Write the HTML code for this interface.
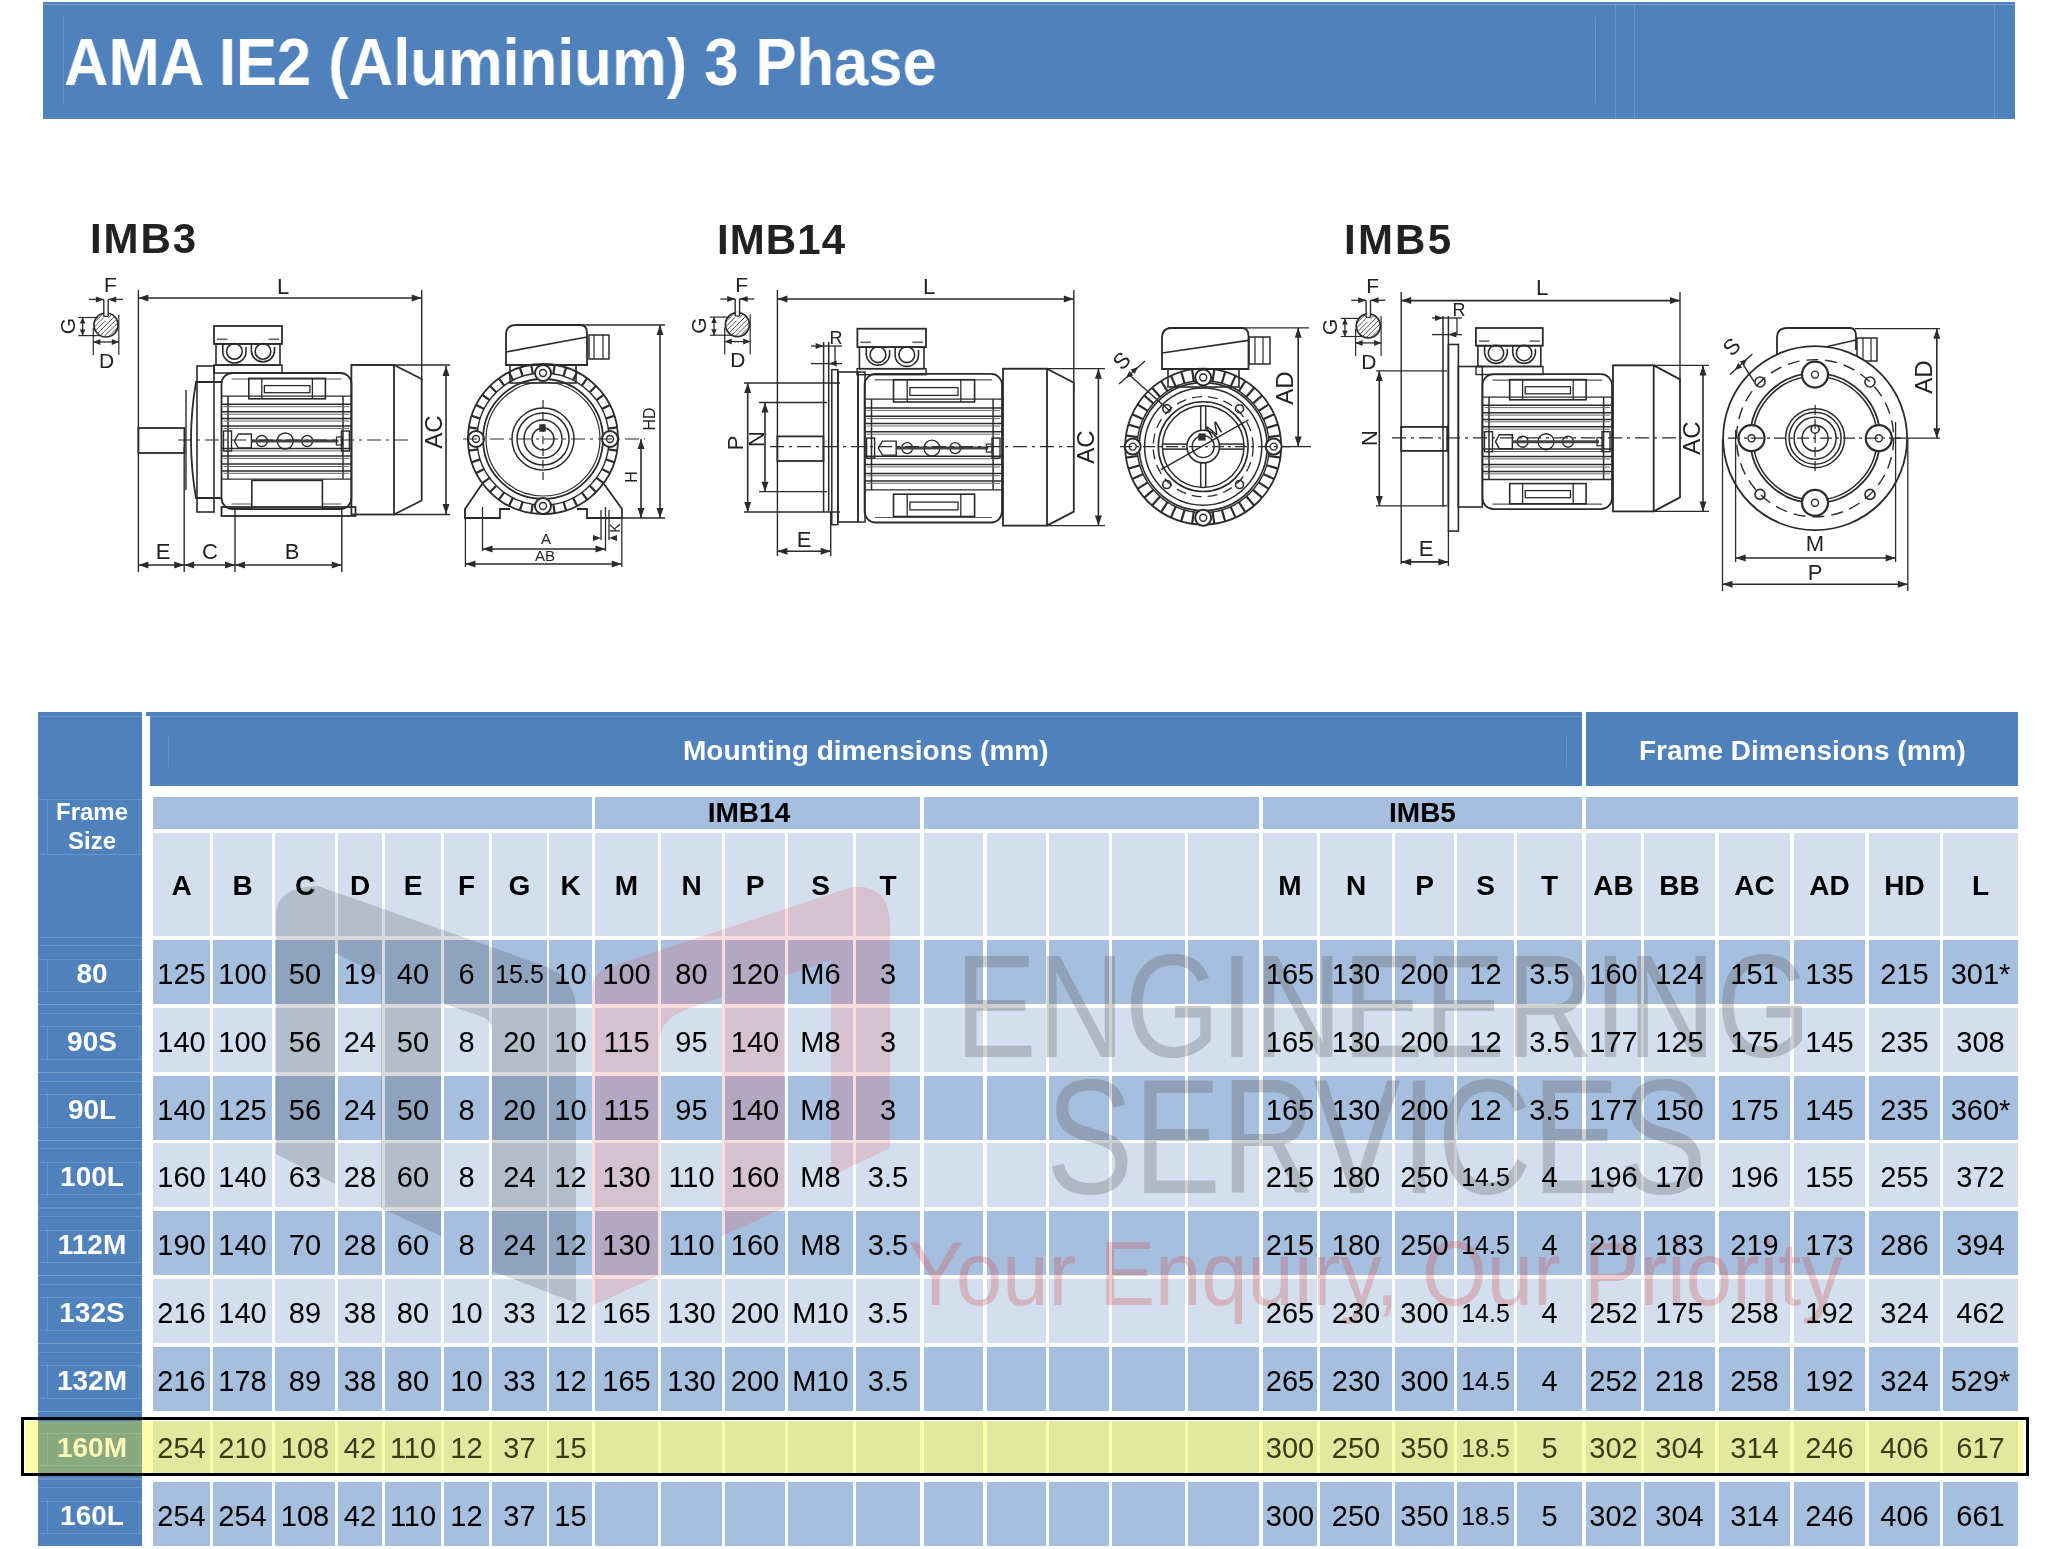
<!DOCTYPE html><html><head><meta charset="utf-8"><style>
html,body{margin:0;padding:0;background:#fff;}
body{width:2048px;height:1549px;position:relative;overflow:hidden;font-family:"Liberation Sans",sans-serif;}
.a{position:absolute;}
.c{position:absolute;}
.t{will-change:transform;position:absolute;text-align:center;white-space:nowrap;color:#000;font-size:29px;line-height:30px;height:30px;}
.s{font-size:25px;}
.h{font-weight:bold;font-size:28px;}
.wf{color:#fff;font-weight:bold;}
</style></head><body>
<div class="a" style="left:43px;top:2px;width:1972px;height:117px;background:#4f81bd"></div>
<div class="a" style="left:43px;top:4px;width:1972px;height:1px;background:#7aa0d0"></div>
<div class="a" style="left:63px;top:17px;width:1px;height:86px;background:#6b95c8"></div>
<div class="a" style="left:1595px;top:17px;width:1px;height:86px;background:#6b95c8"></div>
<div class="a" style="left:1615px;top:5px;width:1px;height:114px;background:#6b95c8"></div>
<div class="a" style="left:1634px;top:5px;width:1px;height:114px;background:#6b95c8"></div>
<div class="a" style="left:1994px;top:5px;width:1px;height:114px;background:#6b95c8"></div>
<div class="a" style="left:64px;top:22px;font-size:66px;line-height:80px;font-weight:bold;color:#fff;white-space:nowrap;will-change:transform;transform:scaleX(0.932);transform-origin:0 0" id="title">AMA IE2 (Aluminium) 3 Phase</div>
<svg class="a" style="left:0;top:0;will-change:transform" width="2048" height="700" viewBox="0 0 2048 700"><text x="90.0" y="253.0" font-family="Liberation Sans" font-size="42" font-weight="bold" text-anchor="start" fill="#222" textLength="106.0">IMB3</text><line x1="94.3" y1="322.3" x2="103.3" y2="313.3" stroke="#555" stroke-width="1.00"/><line x1="94.2" y1="327.2" x2="108.2" y2="313.2" stroke="#555" stroke-width="1.00"/><line x1="95.5" y1="330.7" x2="111.7" y2="314.5" stroke="#555" stroke-width="1.00"/><line x1="97.5" y1="333.5" x2="114.5" y2="316.5" stroke="#555" stroke-width="1.00"/><line x1="100.3" y1="335.5" x2="116.5" y2="319.3" stroke="#555" stroke-width="1.00"/><line x1="103.8" y1="336.8" x2="117.8" y2="322.8" stroke="#555" stroke-width="1.00"/><line x1="108.7" y1="336.7" x2="117.7" y2="327.7" stroke="#555" stroke-width="1.00"/><circle cx="106.0" cy="325.0" r="12.0" fill="none" stroke="#2b2b2b" stroke-width="1.70"/><rect x="103.8" y="312.0" width="4.4" height="9" fill="#fff"/><line x1="103.8" y1="299.4" x2="103.8" y2="316.4" stroke="#2b2b2b" stroke-width="1.40"/><line x1="108.2" y1="299.4" x2="108.2" y2="316.4" stroke="#2b2b2b" stroke-width="1.40"/><line x1="103.8" y1="316.4" x2="108.2" y2="316.4" stroke="#2b2b2b" stroke-width="1.20"/><line x1="89.0" y1="299.4" x2="103.8" y2="299.4" stroke="#2b2b2b" stroke-width="1.30"/><line x1="108.2" y1="299.4" x2="123.0" y2="299.4" stroke="#2b2b2b" stroke-width="1.30"/><polygon points="103.8,299.4 95.8,302.4 95.8,296.4" fill="#2b2b2b"/><polygon points="108.2,299.4 116.2,296.4 116.2,302.4" fill="#2b2b2b"/><text x="110.3" y="292.0" font-family="Liberation Sans" font-size="21" font-weight="normal" text-anchor="middle" fill="#222">F</text><line x1="78.4" y1="317.5" x2="98.0" y2="317.5" stroke="#2b2b2b" stroke-width="1.20"/><line x1="78.4" y1="335.6" x2="101.0" y2="335.6" stroke="#2b2b2b" stroke-width="1.20"/><line x1="82.6" y1="317.5" x2="82.6" y2="335.6" stroke="#2b2b2b" stroke-width="1.30"/><polygon points="82.6,317.5 85.4,323.5 79.8,323.5" fill="#2b2b2b"/><polygon points="82.6,335.6 79.8,329.6 85.4,329.6" fill="#2b2b2b"/><text x="75.0" y="326.0" font-family="Liberation Sans" font-size="21" font-weight="normal" text-anchor="middle" fill="#222" transform="rotate(-90 75.0 326.0)">G</text><line x1="93.3" y1="328.0" x2="93.3" y2="355.0" stroke="#2b2b2b" stroke-width="1.20"/><line x1="118.8" y1="315.0" x2="118.8" y2="355.0" stroke="#2b2b2b" stroke-width="1.20"/><line x1="93.3" y1="342.0" x2="118.8" y2="342.0" stroke="#2b2b2b" stroke-width="1.30"/><polygon points="93.3,342.0 100.3,339.0 100.3,345.0" fill="#2b2b2b"/><polygon points="118.8,342.0 111.8,345.0 111.8,339.0" fill="#2b2b2b"/><text x="106.5" y="367.6" font-family="Liberation Sans" font-size="21" font-weight="normal" text-anchor="middle" fill="#222">D</text><line x1="138.4" y1="298.0" x2="421.7" y2="298.0" stroke="#2b2b2b" stroke-width="1.60"/><polygon points="138.4,298.0 148.4,294.5 148.4,301.5" fill="#2b2b2b"/><polygon points="421.7,298.0 411.7,301.5 411.7,294.5" fill="#2b2b2b"/><text x="283.0" y="294.0" font-family="Liberation Sans" font-size="22" font-weight="normal" text-anchor="middle" fill="#222">L</text><line x1="138.4" y1="290.0" x2="138.4" y2="572.0" stroke="#2b2b2b" stroke-width="1.40"/><line x1="421.7" y1="290.0" x2="421.7" y2="381.0" stroke="#2b2b2b" stroke-width="1.40"/><rect x="214.0" y="326.0" width="68.0" height="17.9" rx="0.0" fill="none" stroke="#2b2b2b" stroke-width="1.80"/><rect x="216.0" y="343.9" width="64.0" height="21.1" rx="0.0" fill="none" stroke="#2b2b2b" stroke-width="1.60"/><line x1="217.0" y1="339.3" x2="227.6" y2="339.3" stroke="#666" stroke-width="1.60"/><line x1="268.4" y1="339.3" x2="279.0" y2="339.3" stroke="#666" stroke-width="1.60"/><path d="M222.8 343.9 L222.8 351.4 A11.6 11.6 0 0 0 246.0 351.4 L246.0 346.9" fill="none" stroke="#2b2b2b" stroke-width="1.60"/><circle cx="234.4" cy="351.4" r="7.8" fill="none" stroke="#2b2b2b" stroke-width="1.60"/><path d="M251.4 343.9 L251.4 351.4 A11.6 11.6 0 0 0 274.5 351.4 L274.5 346.9" fill="none" stroke="#2b2b2b" stroke-width="1.60"/><circle cx="263.0" cy="351.4" r="7.8" fill="none" stroke="#2b2b2b" stroke-width="1.60"/><rect x="214.0" y="365.0" width="68.0" height="8.0" rx="0.0" fill="none" stroke="#2b2b2b" stroke-width="1.50"/><rect x="221.5" y="373.0" width="129.9" height="136.0" rx="11.0" fill="none" stroke="#2b2b2b" stroke-width="1.80"/><line x1="231.5" y1="379.0" x2="341.4" y2="379.0" stroke="#555" stroke-width="1.20"/><line x1="231.5" y1="504.0" x2="341.4" y2="504.0" stroke="#555" stroke-width="1.20"/><line x1="228.0" y1="396.1" x2="228.0" y2="479.1" stroke="#2b2b2b" stroke-width="1.50"/><line x1="343.0" y1="396.1" x2="343.0" y2="479.1" stroke="#2b2b2b" stroke-width="1.50"/><line x1="221.5" y1="396.1" x2="351.4" y2="396.1" stroke="#2b2b2b" stroke-width="1.30"/><line x1="221.5" y1="479.1" x2="351.4" y2="479.1" stroke="#2b2b2b" stroke-width="1.30"/><line x1="221.5" y1="404.3" x2="351.4" y2="404.3" stroke="#2b2b2b" stroke-width="1.50"/><line x1="223.5" y1="406.7" x2="349.4" y2="406.7" stroke="#666" stroke-width="1.00"/><line x1="221.5" y1="411.8" x2="351.4" y2="411.8" stroke="#2b2b2b" stroke-width="1.50"/><line x1="223.5" y1="414.2" x2="349.4" y2="414.2" stroke="#666" stroke-width="1.00"/><line x1="221.5" y1="418.6" x2="351.4" y2="418.6" stroke="#2b2b2b" stroke-width="1.50"/><line x1="223.5" y1="421.0" x2="349.4" y2="421.0" stroke="#666" stroke-width="1.00"/><line x1="221.5" y1="426.0" x2="351.4" y2="426.0" stroke="#2b2b2b" stroke-width="1.50"/><line x1="223.5" y1="428.4" x2="349.4" y2="428.4" stroke="#666" stroke-width="1.00"/><line x1="221.5" y1="448.5" x2="351.4" y2="448.5" stroke="#2b2b2b" stroke-width="1.50"/><line x1="223.5" y1="450.9" x2="349.4" y2="450.9" stroke="#666" stroke-width="1.00"/><line x1="221.5" y1="456.0" x2="351.4" y2="456.0" stroke="#2b2b2b" stroke-width="1.50"/><line x1="223.5" y1="458.4" x2="349.4" y2="458.4" stroke="#666" stroke-width="1.00"/><line x1="221.5" y1="464.1" x2="351.4" y2="464.1" stroke="#2b2b2b" stroke-width="1.50"/><line x1="223.5" y1="466.5" x2="349.4" y2="466.5" stroke="#666" stroke-width="1.00"/><line x1="221.5" y1="470.9" x2="351.4" y2="470.9" stroke="#2b2b2b" stroke-width="1.50"/><line x1="223.5" y1="473.3" x2="349.4" y2="473.3" stroke="#666" stroke-width="1.00"/><rect x="248.8" y="378.4" width="76.6" height="20.4" rx="0.0" fill="none" stroke="#2b2b2b" stroke-width="1.60"/><line x1="261.8" y1="378.4" x2="261.8" y2="398.8" stroke="#2b2b2b" stroke-width="1.30"/><line x1="312.4" y1="378.4" x2="312.4" y2="398.8" stroke="#2b2b2b" stroke-width="1.30"/><rect x="264.4" y="385.6" width="45.5" height="7.1" rx="0.0" fill="none" stroke="#2b2b2b" stroke-width="1.30"/><rect x="251.8" y="480.4" width="70.6" height="28.6" fill="#fff" stroke="#2b2b2b" stroke-width="1.6"/><path d="M234.5 441.0 L238.4 434.0 L251.4 434.0 L251.4 448.0 L238.4 448.0 L234.5 441.0 Z" fill="none" stroke="#2b2b2b" stroke-width="1.40"/><circle cx="261.8" cy="441.0" r="5.5" fill="none" stroke="#2b2b2b" stroke-width="1.40"/><circle cx="285.2" cy="441.0" r="8.0" fill="none" stroke="#2b2b2b" stroke-width="1.40"/><circle cx="307.2" cy="441.0" r="5.5" fill="none" stroke="#2b2b2b" stroke-width="1.40"/><line x1="251.4" y1="441.0" x2="338.4" y2="441.0" stroke="#444" stroke-width="3.00"/><rect x="336.4" y="437.0" width="6.0" height="8.0" rx="0.0" fill="none" stroke="#2b2b2b" stroke-width="1.20"/><rect x="223.5" y="431.0" width="8.0" height="20.0" rx="0.0" fill="none" stroke="#2b2b2b" stroke-width="1.40"/><rect x="341.4" y="431.0" width="8.0" height="20.0" rx="0.0" fill="none" stroke="#2b2b2b" stroke-width="1.40"/><rect x="221.5" y="507.0" width="134.0" height="9.0" rx="0.0" fill="none" stroke="#2b2b2b" stroke-width="1.80"/><path d="M221.5 382 L196 382 Q186 440 196 498 L221.5 498" fill="none" stroke="#2b2b2b" stroke-width="1.80"/><rect x="197.0" y="366.0" width="17.0" height="146.0" rx="0.0" fill="none" stroke="#2b2b2b" stroke-width="1.60"/><line x1="186.0" y1="390.0" x2="186.0" y2="490.0" stroke="#2b2b2b" stroke-width="1.40"/><rect x="138.4" y="428.0" width="46.0" height="25.0" rx="0.0" fill="none" stroke="#2b2b2b" stroke-width="1.80"/><line x1="178.0" y1="440.0" x2="410.0" y2="440.0" stroke="#2b2b2b" stroke-width="1.20" stroke-dasharray="14 5 3 5"/><rect x="351.4" y="365.0" width="42.6" height="149.5" rx="0.0" fill="none" stroke="#2b2b2b" stroke-width="1.80"/><path d="M394.0 365.0 L421.7 379.0 L421.7 500.5 L394.0 514.5" fill="none" stroke="#2b2b2b" stroke-width="1.80"/><line x1="446.0" y1="366.0" x2="446.0" y2="514.0" stroke="#2b2b2b" stroke-width="1.60"/><polygon points="446.0,366.0 449.5,376.0 442.5,376.0" fill="#2b2b2b"/><polygon points="446.0,514.0 442.5,504.0 449.5,504.0" fill="#2b2b2b"/><line x1="351.0" y1="365.0" x2="450.0" y2="365.0" stroke="#2b2b2b" stroke-width="1.30"/><line x1="394.0" y1="514.5" x2="450.0" y2="514.5" stroke="#2b2b2b" stroke-width="1.30"/><text x="442.0" y="432.0" font-family="Liberation Sans" font-size="24" font-weight="normal" text-anchor="middle" fill="#222" transform="rotate(-90 442.0 432.0)">AC</text><line x1="138.4" y1="565.0" x2="184.2" y2="565.0" stroke="#2b2b2b" stroke-width="1.60"/><polygon points="138.4,565.0 148.4,561.5 148.4,568.5" fill="#2b2b2b"/><polygon points="184.2,565.0 174.2,568.5 174.2,561.5" fill="#2b2b2b"/><line x1="184.2" y1="565.0" x2="235.0" y2="565.0" stroke="#2b2b2b" stroke-width="1.60"/><polygon points="184.2,565.0 194.2,561.5 194.2,568.5" fill="#2b2b2b"/><polygon points="235.0,565.0 225.0,568.5 225.0,561.5" fill="#2b2b2b"/><line x1="235.0" y1="565.0" x2="341.8" y2="565.0" stroke="#2b2b2b" stroke-width="1.60"/><polygon points="235.0,565.0 245.0,561.5 245.0,568.5" fill="#2b2b2b"/><polygon points="341.8,565.0 331.8,568.5 331.8,561.5" fill="#2b2b2b"/><line x1="184.2" y1="447.0" x2="184.2" y2="572.0" stroke="#2b2b2b" stroke-width="1.40"/><line x1="235.0" y1="509.0" x2="235.0" y2="572.0" stroke="#2b2b2b" stroke-width="1.40"/><line x1="341.8" y1="509.0" x2="341.8" y2="572.0" stroke="#2b2b2b" stroke-width="1.40"/><text x="163.0" y="559.0" font-family="Liberation Sans" font-size="22" font-weight="normal" text-anchor="middle" fill="#222">E</text><text x="210.0" y="559.0" font-family="Liberation Sans" font-size="22" font-weight="normal" text-anchor="middle" fill="#222">C</text><text x="292.0" y="559.0" font-family="Liberation Sans" font-size="22" font-weight="normal" text-anchor="middle" fill="#222">B</text><path d="M506 365 L506 335 Q506 325 516 325 L580 325 Q587 325 587 333 L587 365 Z" fill="none" stroke="#2b2b2b" stroke-width="1.80"/><line x1="506.0" y1="352.0" x2="587.0" y2="337.0" stroke="#2b2b2b" stroke-width="1.60"/><rect x="589.0" y="335.0" width="20.0" height="24.0" rx="0.0" fill="none" stroke="#2b2b2b" stroke-width="1.50"/><line x1="594.0" y1="335.0" x2="594.0" y2="359.0" stroke="#2b2b2b" stroke-width="1.20"/><line x1="603.0" y1="335.0" x2="603.0" y2="359.0" stroke="#2b2b2b" stroke-width="1.20"/><rect x="510.0" y="365.0" width="66.0" height="18.0" rx="0.0" fill="none" stroke="#2b2b2b" stroke-width="1.60"/><circle cx="543.0" cy="439.0" r="75.0" fill="none" stroke="#2b2b2b" stroke-width="1.80"/><circle cx="543.0" cy="439.0" r="66.0" fill="none" stroke="#2b2b2b" stroke-width="1.40"/><circle cx="543.0" cy="439.0" r="60.0" fill="none" stroke="#2b2b2b" stroke-width="1.80"/><circle cx="543.0" cy="439.0" r="57.0" fill="none" stroke="#2b2b2b" stroke-width="1.20"/><line x1="609.0" y1="439.0" x2="618.0" y2="439.0" stroke="#2b2b2b" stroke-width="2.20"/><line x1="608.2" y1="449.3" x2="617.1" y2="450.7" stroke="#2b2b2b" stroke-width="2.20"/><line x1="605.8" y1="459.4" x2="614.3" y2="462.2" stroke="#2b2b2b" stroke-width="2.20"/><line x1="601.8" y1="469.0" x2="609.8" y2="473.0" stroke="#2b2b2b" stroke-width="2.20"/><line x1="596.4" y1="477.8" x2="603.7" y2="483.1" stroke="#2b2b2b" stroke-width="2.20"/><line x1="589.7" y1="485.7" x2="596.0" y2="492.0" stroke="#2b2b2b" stroke-width="2.20"/><line x1="581.8" y1="492.4" x2="587.1" y2="499.7" stroke="#2b2b2b" stroke-width="2.20"/><line x1="573.0" y1="497.8" x2="577.0" y2="505.8" stroke="#2b2b2b" stroke-width="2.20"/><line x1="563.4" y1="501.8" x2="566.2" y2="510.3" stroke="#2b2b2b" stroke-width="2.20"/><line x1="553.3" y1="504.2" x2="554.7" y2="513.1" stroke="#2b2b2b" stroke-width="2.20"/><line x1="543.0" y1="505.0" x2="543.0" y2="514.0" stroke="#2b2b2b" stroke-width="2.20"/><line x1="532.7" y1="504.2" x2="531.3" y2="513.1" stroke="#2b2b2b" stroke-width="2.20"/><line x1="522.6" y1="501.8" x2="519.8" y2="510.3" stroke="#2b2b2b" stroke-width="2.20"/><line x1="513.0" y1="497.8" x2="509.0" y2="505.8" stroke="#2b2b2b" stroke-width="2.20"/><line x1="504.2" y1="492.4" x2="498.9" y2="499.7" stroke="#2b2b2b" stroke-width="2.20"/><line x1="496.3" y1="485.7" x2="490.0" y2="492.0" stroke="#2b2b2b" stroke-width="2.20"/><line x1="489.6" y1="477.8" x2="482.3" y2="483.1" stroke="#2b2b2b" stroke-width="2.20"/><line x1="484.2" y1="469.0" x2="476.2" y2="473.0" stroke="#2b2b2b" stroke-width="2.20"/><line x1="480.2" y1="459.4" x2="471.7" y2="462.2" stroke="#2b2b2b" stroke-width="2.20"/><line x1="477.8" y1="449.3" x2="468.9" y2="450.7" stroke="#2b2b2b" stroke-width="2.20"/><line x1="477.0" y1="439.0" x2="468.0" y2="439.0" stroke="#2b2b2b" stroke-width="2.20"/><line x1="477.8" y1="428.7" x2="468.9" y2="427.3" stroke="#2b2b2b" stroke-width="2.20"/><line x1="480.2" y1="418.6" x2="471.7" y2="415.8" stroke="#2b2b2b" stroke-width="2.20"/><line x1="484.2" y1="409.0" x2="476.2" y2="405.0" stroke="#2b2b2b" stroke-width="2.20"/><line x1="489.6" y1="400.2" x2="482.3" y2="394.9" stroke="#2b2b2b" stroke-width="2.20"/><line x1="496.3" y1="392.3" x2="490.0" y2="386.0" stroke="#2b2b2b" stroke-width="2.20"/><line x1="504.2" y1="385.6" x2="498.9" y2="378.3" stroke="#2b2b2b" stroke-width="2.20"/><line x1="513.0" y1="380.2" x2="509.0" y2="372.2" stroke="#2b2b2b" stroke-width="2.20"/><line x1="522.6" y1="376.2" x2="519.8" y2="367.7" stroke="#2b2b2b" stroke-width="2.20"/><line x1="532.7" y1="373.8" x2="531.3" y2="364.9" stroke="#2b2b2b" stroke-width="2.20"/><line x1="543.0" y1="373.0" x2="543.0" y2="364.0" stroke="#2b2b2b" stroke-width="2.20"/><line x1="553.3" y1="373.8" x2="554.7" y2="364.9" stroke="#2b2b2b" stroke-width="2.20"/><line x1="563.4" y1="376.2" x2="566.2" y2="367.7" stroke="#2b2b2b" stroke-width="2.20"/><line x1="573.0" y1="380.2" x2="577.0" y2="372.2" stroke="#2b2b2b" stroke-width="2.20"/><line x1="581.8" y1="385.6" x2="587.1" y2="378.3" stroke="#2b2b2b" stroke-width="2.20"/><line x1="589.7" y1="392.3" x2="596.0" y2="386.0" stroke="#2b2b2b" stroke-width="2.20"/><line x1="596.4" y1="400.2" x2="603.7" y2="394.9" stroke="#2b2b2b" stroke-width="2.20"/><line x1="601.8" y1="409.0" x2="609.8" y2="405.0" stroke="#2b2b2b" stroke-width="2.20"/><line x1="605.8" y1="418.6" x2="614.3" y2="415.8" stroke="#2b2b2b" stroke-width="2.20"/><line x1="608.2" y1="428.7" x2="617.1" y2="427.3" stroke="#2b2b2b" stroke-width="2.20"/><circle cx="543.0" cy="439.0" r="31.0" fill="none" stroke="#2b2b2b" stroke-width="1.50"/><circle cx="543.0" cy="439.0" r="26.0" fill="none" stroke="#2b2b2b" stroke-width="1.50"/><circle cx="543.0" cy="439.0" r="19.0" fill="none" stroke="#2b2b2b" stroke-width="1.50"/><circle cx="543.0" cy="439.0" r="11.0" fill="none" stroke="#2b2b2b" stroke-width="1.50"/><circle cx="476.0" cy="439.0" r="8.0" fill="#fff" stroke="#2b2b2b" stroke-width="2.00"/><circle cx="476.0" cy="439.0" r="3.5" fill="none" stroke="#2b2b2b" stroke-width="1.40"/><circle cx="610.0" cy="439.0" r="8.0" fill="#fff" stroke="#2b2b2b" stroke-width="2.00"/><circle cx="610.0" cy="439.0" r="3.5" fill="none" stroke="#2b2b2b" stroke-width="1.40"/><circle cx="543.0" cy="373.0" r="8.0" fill="#fff" stroke="#2b2b2b" stroke-width="2.00"/><circle cx="543.0" cy="373.0" r="3.5" fill="none" stroke="#2b2b2b" stroke-width="1.40"/><circle cx="543.0" cy="506.0" r="8.0" fill="#fff" stroke="#2b2b2b" stroke-width="2.00"/><circle cx="543.0" cy="506.0" r="3.5" fill="none" stroke="#2b2b2b" stroke-width="1.40"/><rect x="540.0" y="425.0" width="5.0" height="6.0" rx="0.0" fill="#333" stroke="#2b2b2b" stroke-width="1.40"/><line x1="543.0" y1="400.0" x2="543.0" y2="480.0" stroke="#2b2b2b" stroke-width="1.20" stroke-dasharray="8 4"/><path d="M482 484 L465 509 L465 518 L500 518 L500 509 L510 509" fill="none" stroke="#2b2b2b" stroke-width="1.80"/><path d="M604 484 L622 509 L622 518 L587 518 L587 509 L577 509" fill="none" stroke="#2b2b2b" stroke-width="1.80"/><line x1="463.0" y1="439.0" x2="645.0" y2="439.0" stroke="#2b2b2b" stroke-width="1.20" stroke-dasharray="14 5 3 5"/><line x1="660.0" y1="325.0" x2="660.0" y2="518.0" stroke="#2b2b2b" stroke-width="1.60"/><polygon points="660.0,325.0 663.5,335.0 656.5,335.0" fill="#2b2b2b"/><polygon points="660.0,518.0 656.5,508.0 663.5,508.0" fill="#2b2b2b"/><line x1="562.0" y1="325.0" x2="665.0" y2="325.0" stroke="#2b2b2b" stroke-width="1.30"/><line x1="622.0" y1="518.0" x2="665.0" y2="518.0" stroke="#2b2b2b" stroke-width="1.30"/><text x="655.0" y="419.0" font-family="Liberation Sans" font-size="16" font-weight="normal" text-anchor="middle" fill="#222" transform="rotate(-90 655.0 419.0)">HD</text><line x1="641.0" y1="439.0" x2="641.0" y2="518.0" stroke="#2b2b2b" stroke-width="1.60"/><polygon points="641.0,439.0 644.5,449.0 637.5,449.0" fill="#2b2b2b"/><polygon points="641.0,518.0 637.5,508.0 644.5,508.0" fill="#2b2b2b"/><text x="637.0" y="477.0" font-family="Liberation Sans" font-size="16" font-weight="normal" text-anchor="middle" fill="#222" transform="rotate(-90 637.0 477.0)">H</text><line x1="482.5" y1="549.0" x2="605.5" y2="549.0" stroke="#2b2b2b" stroke-width="1.60"/><polygon points="482.5,549.0 492.5,545.5 492.5,552.5" fill="#2b2b2b"/><polygon points="605.5,549.0 595.5,552.5 595.5,545.5" fill="#2b2b2b"/><text x="546.0" y="544.0" font-family="Liberation Sans" font-size="15" font-weight="normal" text-anchor="middle" fill="#222">A</text><line x1="465.4" y1="564.0" x2="621.8" y2="564.0" stroke="#2b2b2b" stroke-width="1.60"/><polygon points="465.4,564.0 475.4,560.5 475.4,567.5" fill="#2b2b2b"/><polygon points="621.8,564.0 611.8,567.5 611.8,560.5" fill="#2b2b2b"/><text x="545.0" y="561.0" font-family="Liberation Sans" font-size="15" font-weight="normal" text-anchor="middle" fill="#222">AB</text><line x1="465.4" y1="509.0" x2="465.4" y2="567.0" stroke="#2b2b2b" stroke-width="1.30"/><line x1="482.5" y1="507.0" x2="482.5" y2="551.0" stroke="#2b2b2b" stroke-width="1.30"/><line x1="605.5" y1="507.0" x2="605.5" y2="551.0" stroke="#2b2b2b" stroke-width="1.30"/><line x1="621.8" y1="518.0" x2="621.8" y2="567.0" stroke="#2b2b2b" stroke-width="1.30"/><line x1="601.0" y1="510.0" x2="601.0" y2="540.0" stroke="#2b2b2b" stroke-width="1.30"/><line x1="609.0" y1="510.0" x2="609.0" y2="540.0" stroke="#2b2b2b" stroke-width="1.30"/><polygon points="601.0,538.0 593.0,541.0 593.0,535.0" fill="#2b2b2b"/><polygon points="609.0,538.0 617.0,535.0 617.0,541.0" fill="#2b2b2b"/><text x="620.0" y="528.0" font-family="Liberation Sans" font-size="14" font-weight="normal" text-anchor="middle" fill="#222" transform="rotate(-90 620.0 528.0)">K</text><text x="717.0" y="254.0" font-family="Liberation Sans" font-size="42" font-weight="bold" text-anchor="start" fill="#222" textLength="128.0">IMB14</text><line x1="725.7" y1="321.9" x2="734.7" y2="312.9" stroke="#555" stroke-width="1.00"/><line x1="725.6" y1="326.8" x2="739.6" y2="312.8" stroke="#555" stroke-width="1.00"/><line x1="726.9" y1="330.3" x2="743.1" y2="314.1" stroke="#555" stroke-width="1.00"/><line x1="728.9" y1="333.1" x2="745.9" y2="316.1" stroke="#555" stroke-width="1.00"/><line x1="731.7" y1="335.1" x2="747.9" y2="318.9" stroke="#555" stroke-width="1.00"/><line x1="735.2" y1="336.4" x2="749.2" y2="322.4" stroke="#555" stroke-width="1.00"/><line x1="740.1" y1="336.3" x2="749.1" y2="327.3" stroke="#555" stroke-width="1.00"/><circle cx="737.4" cy="324.6" r="12.0" fill="none" stroke="#2b2b2b" stroke-width="1.70"/><rect x="735.2" y="311.6" width="4.4" height="9" fill="#fff"/><line x1="735.2" y1="299.0" x2="735.2" y2="316.0" stroke="#2b2b2b" stroke-width="1.40"/><line x1="739.6" y1="299.0" x2="739.6" y2="316.0" stroke="#2b2b2b" stroke-width="1.40"/><line x1="735.2" y1="316.0" x2="739.6" y2="316.0" stroke="#2b2b2b" stroke-width="1.20"/><line x1="720.4" y1="299.0" x2="735.2" y2="299.0" stroke="#2b2b2b" stroke-width="1.30"/><line x1="739.6" y1="299.0" x2="754.4" y2="299.0" stroke="#2b2b2b" stroke-width="1.30"/><polygon points="735.2,299.0 727.2,302.0 727.2,296.0" fill="#2b2b2b"/><polygon points="739.6,299.0 747.6,296.0 747.6,302.0" fill="#2b2b2b"/><text x="741.7" y="291.6" font-family="Liberation Sans" font-size="21" font-weight="normal" text-anchor="middle" fill="#222">F</text><line x1="709.8" y1="317.1" x2="729.4" y2="317.1" stroke="#2b2b2b" stroke-width="1.20"/><line x1="709.8" y1="335.2" x2="732.4" y2="335.2" stroke="#2b2b2b" stroke-width="1.20"/><line x1="714.0" y1="317.1" x2="714.0" y2="335.2" stroke="#2b2b2b" stroke-width="1.30"/><polygon points="714.0,317.1 716.8,323.1 711.2,323.1" fill="#2b2b2b"/><polygon points="714.0,335.2 711.2,329.2 716.8,329.2" fill="#2b2b2b"/><text x="706.4" y="325.6" font-family="Liberation Sans" font-size="21" font-weight="normal" text-anchor="middle" fill="#222" transform="rotate(-90 706.4 325.6)">G</text><line x1="724.7" y1="327.6" x2="724.7" y2="354.6" stroke="#2b2b2b" stroke-width="1.20"/><line x1="750.2" y1="314.6" x2="750.2" y2="354.6" stroke="#2b2b2b" stroke-width="1.20"/><line x1="724.7" y1="341.6" x2="750.2" y2="341.6" stroke="#2b2b2b" stroke-width="1.30"/><polygon points="724.7,341.6 731.7,338.6 731.7,344.6" fill="#2b2b2b"/><polygon points="750.2,341.6 743.2,344.6 743.2,338.6" fill="#2b2b2b"/><text x="737.9" y="367.2" font-family="Liberation Sans" font-size="21" font-weight="normal" text-anchor="middle" fill="#222">D</text><line x1="777.4" y1="299.0" x2="1073.8" y2="299.0" stroke="#2b2b2b" stroke-width="1.60"/><polygon points="777.4,299.0 787.4,295.5 787.4,302.5" fill="#2b2b2b"/><polygon points="1073.8,299.0 1063.8,302.5 1063.8,295.5" fill="#2b2b2b"/><text x="929.0" y="294.0" font-family="Liberation Sans" font-size="22" font-weight="normal" text-anchor="middle" fill="#222">L</text><line x1="777.4" y1="290.0" x2="777.4" y2="556.0" stroke="#2b2b2b" stroke-width="1.40"/><line x1="1073.8" y1="290.0" x2="1073.8" y2="391.0" stroke="#2b2b2b" stroke-width="1.40"/><line x1="823.6" y1="342.0" x2="823.6" y2="512.0" stroke="#2b2b2b" stroke-width="1.50"/><line x1="828.7" y1="342.0" x2="828.7" y2="512.0" stroke="#2b2b2b" stroke-width="1.50"/><line x1="811.0" y1="346.0" x2="842.0" y2="346.0" stroke="#2b2b2b" stroke-width="1.30"/><line x1="811.0" y1="363.6" x2="842.0" y2="363.6" stroke="#2b2b2b" stroke-width="1.30"/><polygon points="823.6,346.0 815.6,349.0 815.6,343.0" fill="#2b2b2b"/><polygon points="828.7,363.6 836.7,360.6 836.7,366.6" fill="#2b2b2b"/><line x1="835.0" y1="346.0" x2="835.0" y2="363.0" stroke="#2b2b2b" stroke-width="1.30"/><text x="836.0" y="344.0" font-family="Liberation Sans" font-size="18" font-weight="normal" text-anchor="middle" fill="#222">R</text><line x1="747.7" y1="383.0" x2="747.7" y2="512.0" stroke="#2b2b2b" stroke-width="1.60"/><polygon points="747.7,383.0 751.2,393.0 744.2,393.0" fill="#2b2b2b"/><polygon points="747.7,512.0 744.2,502.0 751.2,502.0" fill="#2b2b2b"/><line x1="744.0" y1="383.0" x2="840.0" y2="383.0" stroke="#2b2b2b" stroke-width="1.30"/><line x1="744.0" y1="512.0" x2="840.0" y2="512.0" stroke="#2b2b2b" stroke-width="1.30"/><text x="743.0" y="443.0" font-family="Liberation Sans" font-size="22" font-weight="normal" text-anchor="middle" fill="#222" transform="rotate(-90 743.0 443.0)">P</text><line x1="765.0" y1="402.5" x2="765.0" y2="491.7" stroke="#2b2b2b" stroke-width="1.60"/><polygon points="765.0,402.5 768.5,412.5 761.5,412.5" fill="#2b2b2b"/><polygon points="765.0,491.7 761.5,481.7 768.5,481.7" fill="#2b2b2b"/><line x1="759.0" y1="402.5" x2="827.0" y2="402.5" stroke="#2b2b2b" stroke-width="1.30"/><line x1="759.0" y1="491.7" x2="827.0" y2="491.7" stroke="#2b2b2b" stroke-width="1.30"/><text x="764.0" y="439.0" font-family="Liberation Sans" font-size="22" font-weight="normal" text-anchor="middle" fill="#222" transform="rotate(-90 764.0 439.0)">N</text><rect x="777.4" y="436.4" width="46.0" height="24.6" rx="0.0" fill="none" stroke="#2b2b2b" stroke-width="1.80"/><rect x="831.8" y="369.7" width="6.0" height="155.0" rx="0.0" fill="none" stroke="#2b2b2b" stroke-width="1.50"/><rect x="838.0" y="372.0" width="20.0" height="150.0" rx="0.0" fill="none" stroke="#2b2b2b" stroke-width="1.60"/><rect x="858.0" y="372.0" width="7.0" height="150.0" rx="0.0" fill="none" stroke="#2b2b2b" stroke-width="1.50"/><rect x="857.4" y="328.7" width="68.6" height="18.4" rx="0.0" fill="none" stroke="#2b2b2b" stroke-width="1.80"/><rect x="859.4" y="347.1" width="64.6" height="21.6" rx="0.0" fill="none" stroke="#2b2b2b" stroke-width="1.60"/><line x1="860.4" y1="342.3" x2="871.1" y2="342.3" stroke="#666" stroke-width="1.60"/><line x1="912.3" y1="342.3" x2="923.0" y2="342.3" stroke="#666" stroke-width="1.60"/><path d="M866.3 347.1 L866.3 354.7 A11.7 11.7 0 0 0 889.6 354.7 L889.6 350.1" fill="none" stroke="#2b2b2b" stroke-width="1.60"/><circle cx="878.0" cy="354.7" r="7.9" fill="none" stroke="#2b2b2b" stroke-width="1.60"/><path d="M895.1 347.1 L895.1 354.7 A11.7 11.7 0 0 0 918.5 354.7 L918.5 350.1" fill="none" stroke="#2b2b2b" stroke-width="1.60"/><circle cx="906.8" cy="354.7" r="7.9" fill="none" stroke="#2b2b2b" stroke-width="1.60"/><rect x="857.0" y="368.7" width="69.0" height="6.0" rx="0.0" fill="none" stroke="#2b2b2b" stroke-width="1.40"/><rect x="864.6" y="373.8" width="137.4" height="148.7" rx="11.0" fill="none" stroke="#2b2b2b" stroke-width="1.80"/><line x1="874.6" y1="379.8" x2="992.0" y2="379.8" stroke="#555" stroke-width="1.20"/><line x1="874.6" y1="517.5" x2="992.0" y2="517.5" stroke="#555" stroke-width="1.20"/><line x1="871.5" y1="399.1" x2="871.5" y2="489.8" stroke="#2b2b2b" stroke-width="1.50"/><line x1="993.1" y1="399.1" x2="993.1" y2="489.8" stroke="#2b2b2b" stroke-width="1.50"/><line x1="864.6" y1="399.1" x2="1002.0" y2="399.1" stroke="#2b2b2b" stroke-width="1.30"/><line x1="864.6" y1="489.8" x2="1002.0" y2="489.8" stroke="#2b2b2b" stroke-width="1.30"/><line x1="864.6" y1="408.0" x2="1002.0" y2="408.0" stroke="#2b2b2b" stroke-width="1.50"/><line x1="866.6" y1="410.4" x2="1000.0" y2="410.4" stroke="#666" stroke-width="1.00"/><line x1="864.6" y1="416.2" x2="1002.0" y2="416.2" stroke="#2b2b2b" stroke-width="1.50"/><line x1="866.6" y1="418.6" x2="1000.0" y2="418.6" stroke="#666" stroke-width="1.00"/><line x1="864.6" y1="423.6" x2="1002.0" y2="423.6" stroke="#2b2b2b" stroke-width="1.50"/><line x1="866.6" y1="426.0" x2="1000.0" y2="426.0" stroke="#666" stroke-width="1.00"/><line x1="864.6" y1="431.8" x2="1002.0" y2="431.8" stroke="#2b2b2b" stroke-width="1.50"/><line x1="866.6" y1="434.2" x2="1000.0" y2="434.2" stroke="#666" stroke-width="1.00"/><line x1="864.6" y1="456.3" x2="1002.0" y2="456.3" stroke="#2b2b2b" stroke-width="1.50"/><line x1="866.6" y1="458.7" x2="1000.0" y2="458.7" stroke="#666" stroke-width="1.00"/><line x1="864.6" y1="464.5" x2="1002.0" y2="464.5" stroke="#2b2b2b" stroke-width="1.50"/><line x1="866.6" y1="466.9" x2="1000.0" y2="466.9" stroke="#666" stroke-width="1.00"/><line x1="864.6" y1="473.4" x2="1002.0" y2="473.4" stroke="#2b2b2b" stroke-width="1.50"/><line x1="866.6" y1="475.8" x2="1000.0" y2="475.8" stroke="#666" stroke-width="1.00"/><line x1="864.6" y1="480.9" x2="1002.0" y2="480.9" stroke="#2b2b2b" stroke-width="1.50"/><line x1="866.6" y1="483.3" x2="1000.0" y2="483.3" stroke="#666" stroke-width="1.00"/><rect x="893.5" y="379.7" width="81.1" height="22.3" rx="0.0" fill="none" stroke="#2b2b2b" stroke-width="1.60"/><line x1="907.2" y1="379.7" x2="907.2" y2="402.1" stroke="#2b2b2b" stroke-width="1.30"/><line x1="960.8" y1="379.7" x2="960.8" y2="402.1" stroke="#2b2b2b" stroke-width="1.30"/><rect x="909.9" y="387.6" width="48.1" height="7.8" rx="0.0" fill="none" stroke="#2b2b2b" stroke-width="1.30"/><rect x="893.5" y="494.2" width="81.1" height="22.3" rx="0.0" fill="none" stroke="#2b2b2b" stroke-width="1.60"/><line x1="907.2" y1="494.2" x2="907.2" y2="516.6" stroke="#2b2b2b" stroke-width="1.30"/><line x1="960.8" y1="494.2" x2="960.8" y2="516.6" stroke="#2b2b2b" stroke-width="1.30"/><rect x="909.9" y="502.1" width="48.1" height="7.8" rx="0.0" fill="none" stroke="#2b2b2b" stroke-width="1.30"/><path d="M878.3 448.1 L882.5 441.1 L896.2 441.1 L896.2 455.1 L882.5 455.1 L878.3 448.1 Z" fill="none" stroke="#2b2b2b" stroke-width="1.40"/><circle cx="907.2" cy="448.1" r="5.5" fill="none" stroke="#2b2b2b" stroke-width="1.40"/><circle cx="931.9" cy="448.1" r="8.0" fill="none" stroke="#2b2b2b" stroke-width="1.40"/><circle cx="955.3" cy="448.1" r="5.5" fill="none" stroke="#2b2b2b" stroke-width="1.40"/><line x1="896.2" y1="448.1" x2="988.3" y2="448.1" stroke="#444" stroke-width="3.00"/><rect x="986.3" y="444.1" width="6.0" height="8.0" rx="0.0" fill="none" stroke="#2b2b2b" stroke-width="1.20"/><rect x="866.6" y="438.1" width="8.0" height="20.0" rx="0.0" fill="none" stroke="#2b2b2b" stroke-width="1.40"/><rect x="992.0" y="438.1" width="8.0" height="20.0" rx="0.0" fill="none" stroke="#2b2b2b" stroke-width="1.40"/><rect x="1003.0" y="368.7" width="44.0" height="156.9" rx="0.0" fill="none" stroke="#2b2b2b" stroke-width="1.80"/><path d="M1047.0 368.7 L1073.8 382.7 L1073.8 511.6 L1047.0 525.6" fill="none" stroke="#2b2b2b" stroke-width="1.80"/><line x1="770.0" y1="446.6" x2="1073.8" y2="446.6" stroke="#2b2b2b" stroke-width="1.20" stroke-dasharray="14 5 3 5"/><line x1="1098.4" y1="368.7" x2="1098.4" y2="525.6" stroke="#2b2b2b" stroke-width="1.60"/><polygon points="1098.4,368.7 1101.9,378.7 1094.9,378.7" fill="#2b2b2b"/><polygon points="1098.4,525.6 1094.9,515.6 1101.9,515.6" fill="#2b2b2b"/><line x1="1003.0" y1="368.7" x2="1105.0" y2="368.7" stroke="#2b2b2b" stroke-width="1.30"/><line x1="1047.0" y1="525.6" x2="1105.0" y2="525.6" stroke="#2b2b2b" stroke-width="1.30"/><text x="1094.0" y="447.0" font-family="Liberation Sans" font-size="24" font-weight="normal" text-anchor="middle" fill="#222" transform="rotate(-90 1094.0 447.0)">AC</text><line x1="777.4" y1="551.2" x2="830.7" y2="551.2" stroke="#2b2b2b" stroke-width="1.60"/><polygon points="777.4,551.2 787.4,547.7 787.4,554.7" fill="#2b2b2b"/><polygon points="830.7,551.2 820.7,554.7 820.7,547.7" fill="#2b2b2b"/><line x1="830.7" y1="512.0" x2="830.7" y2="556.0" stroke="#2b2b2b" stroke-width="1.40"/><text x="804.0" y="547.0" font-family="Liberation Sans" font-size="22" font-weight="normal" text-anchor="middle" fill="#222">E</text><path d="M1162 369 L1162 338 Q1162 328 1172 328 L1242 328 Q1248.5 328 1248.5 336 L1248.5 369 Z" fill="none" stroke="#2b2b2b" stroke-width="1.80"/><line x1="1162.0" y1="353.0" x2="1248.5" y2="340.4" stroke="#2b2b2b" stroke-width="1.60"/><rect x="1249.0" y="337.0" width="21.0" height="27.0" rx="0.0" fill="none" stroke="#2b2b2b" stroke-width="1.50"/><line x1="1255.0" y1="337.0" x2="1255.0" y2="364.0" stroke="#2b2b2b" stroke-width="1.20"/><line x1="1263.0" y1="337.0" x2="1263.0" y2="364.0" stroke="#2b2b2b" stroke-width="1.20"/><rect x="1168.0" y="369.0" width="71.0" height="18.0" rx="0.0" fill="none" stroke="#2b2b2b" stroke-width="1.60"/><circle cx="1203.2" cy="446.6" r="78.0" fill="none" stroke="#2b2b2b" stroke-width="1.80"/><circle cx="1203.2" cy="446.6" r="66.0" fill="none" stroke="#2b2b2b" stroke-width="1.40"/><circle cx="1203.2" cy="446.6" r="64.0" fill="none" stroke="#2b2b2b" stroke-width="1.60"/><circle cx="1203.2" cy="446.6" r="58.6" fill="none" stroke="#2b2b2b" stroke-width="1.50"/><line x1="1269.2" y1="446.6" x2="1281.2" y2="446.6" stroke="#2b2b2b" stroke-width="2.20"/><line x1="1268.5" y1="456.0" x2="1280.4" y2="457.7" stroke="#2b2b2b" stroke-width="2.20"/><line x1="1266.5" y1="465.2" x2="1278.0" y2="468.6" stroke="#2b2b2b" stroke-width="2.20"/><line x1="1263.2" y1="474.0" x2="1274.2" y2="479.0" stroke="#2b2b2b" stroke-width="2.20"/><line x1="1258.7" y1="482.3" x2="1268.8" y2="488.8" stroke="#2b2b2b" stroke-width="2.20"/><line x1="1253.1" y1="489.8" x2="1262.1" y2="497.7" stroke="#2b2b2b" stroke-width="2.20"/><line x1="1246.4" y1="496.5" x2="1254.3" y2="505.5" stroke="#2b2b2b" stroke-width="2.20"/><line x1="1238.9" y1="502.1" x2="1245.4" y2="512.2" stroke="#2b2b2b" stroke-width="2.20"/><line x1="1230.6" y1="506.6" x2="1235.6" y2="517.6" stroke="#2b2b2b" stroke-width="2.20"/><line x1="1221.8" y1="509.9" x2="1225.2" y2="521.4" stroke="#2b2b2b" stroke-width="2.20"/><line x1="1212.6" y1="511.9" x2="1214.3" y2="523.8" stroke="#2b2b2b" stroke-width="2.20"/><line x1="1203.2" y1="512.6" x2="1203.2" y2="524.6" stroke="#2b2b2b" stroke-width="2.20"/><line x1="1193.8" y1="511.9" x2="1192.1" y2="523.8" stroke="#2b2b2b" stroke-width="2.20"/><line x1="1184.6" y1="509.9" x2="1181.2" y2="521.4" stroke="#2b2b2b" stroke-width="2.20"/><line x1="1175.8" y1="506.6" x2="1170.8" y2="517.6" stroke="#2b2b2b" stroke-width="2.20"/><line x1="1167.5" y1="502.1" x2="1161.0" y2="512.2" stroke="#2b2b2b" stroke-width="2.20"/><line x1="1160.0" y1="496.5" x2="1152.1" y2="505.5" stroke="#2b2b2b" stroke-width="2.20"/><line x1="1153.3" y1="489.8" x2="1144.3" y2="497.7" stroke="#2b2b2b" stroke-width="2.20"/><line x1="1147.7" y1="482.3" x2="1137.6" y2="488.8" stroke="#2b2b2b" stroke-width="2.20"/><line x1="1143.2" y1="474.0" x2="1132.2" y2="479.0" stroke="#2b2b2b" stroke-width="2.20"/><line x1="1139.9" y1="465.2" x2="1128.4" y2="468.6" stroke="#2b2b2b" stroke-width="2.20"/><line x1="1137.9" y1="456.0" x2="1126.0" y2="457.7" stroke="#2b2b2b" stroke-width="2.20"/><line x1="1137.2" y1="446.6" x2="1125.2" y2="446.6" stroke="#2b2b2b" stroke-width="2.20"/><line x1="1137.9" y1="437.2" x2="1126.0" y2="435.5" stroke="#2b2b2b" stroke-width="2.20"/><line x1="1139.9" y1="428.0" x2="1128.4" y2="424.6" stroke="#2b2b2b" stroke-width="2.20"/><line x1="1143.2" y1="419.2" x2="1132.2" y2="414.2" stroke="#2b2b2b" stroke-width="2.20"/><line x1="1147.7" y1="410.9" x2="1137.6" y2="404.4" stroke="#2b2b2b" stroke-width="2.20"/><line x1="1153.3" y1="403.4" x2="1144.3" y2="395.5" stroke="#2b2b2b" stroke-width="2.20"/><line x1="1160.0" y1="396.7" x2="1152.1" y2="387.7" stroke="#2b2b2b" stroke-width="2.20"/><line x1="1167.5" y1="391.1" x2="1161.0" y2="381.0" stroke="#2b2b2b" stroke-width="2.20"/><line x1="1175.8" y1="386.6" x2="1170.8" y2="375.6" stroke="#2b2b2b" stroke-width="2.20"/><line x1="1184.6" y1="383.3" x2="1181.2" y2="371.8" stroke="#2b2b2b" stroke-width="2.20"/><line x1="1193.8" y1="381.3" x2="1192.1" y2="369.4" stroke="#2b2b2b" stroke-width="2.20"/><line x1="1203.2" y1="380.6" x2="1203.2" y2="368.6" stroke="#2b2b2b" stroke-width="2.20"/><line x1="1212.6" y1="381.3" x2="1214.3" y2="369.4" stroke="#2b2b2b" stroke-width="2.20"/><line x1="1221.8" y1="383.3" x2="1225.2" y2="371.8" stroke="#2b2b2b" stroke-width="2.20"/><line x1="1230.6" y1="386.6" x2="1235.6" y2="375.6" stroke="#2b2b2b" stroke-width="2.20"/><line x1="1238.9" y1="391.1" x2="1245.4" y2="381.0" stroke="#2b2b2b" stroke-width="2.20"/><line x1="1246.4" y1="396.7" x2="1254.3" y2="387.7" stroke="#2b2b2b" stroke-width="2.20"/><line x1="1253.1" y1="403.4" x2="1262.1" y2="395.5" stroke="#2b2b2b" stroke-width="2.20"/><line x1="1258.7" y1="410.9" x2="1268.8" y2="404.4" stroke="#2b2b2b" stroke-width="2.20"/><line x1="1263.2" y1="419.2" x2="1274.2" y2="414.2" stroke="#2b2b2b" stroke-width="2.20"/><line x1="1266.5" y1="428.0" x2="1278.0" y2="424.6" stroke="#2b2b2b" stroke-width="2.20"/><line x1="1268.5" y1="437.2" x2="1280.4" y2="435.5" stroke="#2b2b2b" stroke-width="2.20"/><circle cx="1203.2" cy="446.6" r="50.0" fill="none" stroke="#2b2b2b" stroke-width="1.30" stroke-dasharray="10 6"/><circle cx="1203.2" cy="446.6" r="44.9" fill="none" stroke="#2b2b2b" stroke-width="1.60"/><circle cx="1203.2" cy="446.6" r="40.8" fill="none" stroke="#2b2b2b" stroke-width="1.50"/><circle cx="1203.2" cy="446.6" r="16.3" fill="none" stroke="#2b2b2b" stroke-width="1.60"/><circle cx="1203.2" cy="446.6" r="11.0" fill="none" stroke="#2b2b2b" stroke-width="1.40"/><line x1="1200.7" y1="405.6" x2="1200.7" y2="430.6" stroke="#2b2b2b" stroke-width="1.50"/><line x1="1205.7" y1="405.6" x2="1205.7" y2="430.6" stroke="#2b2b2b" stroke-width="1.50"/><line x1="1200.7" y1="462.6" x2="1200.7" y2="487.6" stroke="#2b2b2b" stroke-width="1.50"/><line x1="1205.7" y1="462.6" x2="1205.7" y2="487.6" stroke="#2b2b2b" stroke-width="1.50"/><line x1="1162.2" y1="444.1" x2="1187.2" y2="444.1" stroke="#2b2b2b" stroke-width="1.50"/><line x1="1162.2" y1="449.1" x2="1187.2" y2="449.1" stroke="#2b2b2b" stroke-width="1.50"/><line x1="1219.2" y1="444.1" x2="1244.2" y2="444.1" stroke="#2b2b2b" stroke-width="1.50"/><line x1="1219.2" y1="449.1" x2="1244.2" y2="449.1" stroke="#2b2b2b" stroke-width="1.50"/><line x1="1160.9" y1="469.6" x2="1248.5" y2="419.9" stroke="#2b2b2b" stroke-width="1.40"/><text x="1217.0" y="435.0" font-family="Liberation Sans" font-size="18" font-weight="normal" text-anchor="middle" fill="#222" transform="rotate(-30 1217.0 435.0)">M</text><rect x="1199.0" y="434.0" width="6.0" height="6.0" rx="0.0" fill="#333" stroke="#2b2b2b" stroke-width="1.20"/><circle cx="1166.8" cy="408.7" r="4.0" fill="none" stroke="#2b2b2b" stroke-width="1.60"/><circle cx="1239.5" cy="408.7" r="4.0" fill="none" stroke="#2b2b2b" stroke-width="1.60"/><circle cx="1166.8" cy="484.5" r="4.0" fill="none" stroke="#2b2b2b" stroke-width="1.60"/><circle cx="1239.5" cy="484.5" r="4.0" fill="none" stroke="#2b2b2b" stroke-width="1.60"/><circle cx="1132.7" cy="446.6" r="8.0" fill="#fff" stroke="#2b2b2b" stroke-width="2.00"/><circle cx="1132.7" cy="446.6" r="3.5" fill="none" stroke="#2b2b2b" stroke-width="1.40"/><circle cx="1273.7" cy="446.6" r="8.0" fill="#fff" stroke="#2b2b2b" stroke-width="2.00"/><circle cx="1273.7" cy="446.6" r="3.5" fill="none" stroke="#2b2b2b" stroke-width="1.40"/><circle cx="1203.2" cy="377.5" r="8.0" fill="#fff" stroke="#2b2b2b" stroke-width="2.00"/><circle cx="1203.2" cy="377.5" r="3.5" fill="none" stroke="#2b2b2b" stroke-width="1.40"/><circle cx="1203.2" cy="517.8" r="8.0" fill="#fff" stroke="#2b2b2b" stroke-width="2.00"/><circle cx="1203.2" cy="517.8" r="3.5" fill="none" stroke="#2b2b2b" stroke-width="1.40"/><line x1="1120.0" y1="446.6" x2="1290.0" y2="446.6" stroke="#2b2b2b" stroke-width="1.20" stroke-dasharray="12 4 3 4"/><line x1="1298.2" y1="327.8" x2="1298.2" y2="446.6" stroke="#2b2b2b" stroke-width="1.60"/><polygon points="1298.2,327.8 1301.7,337.8 1294.7,337.8" fill="#2b2b2b"/><polygon points="1298.2,446.6 1294.7,436.6 1301.7,436.6" fill="#2b2b2b"/><line x1="1168.0" y1="327.8" x2="1309.0" y2="327.8" stroke="#2b2b2b" stroke-width="1.30"/><line x1="1283.0" y1="446.6" x2="1311.0" y2="446.6" stroke="#2b2b2b" stroke-width="1.30"/><text x="1293.0" y="388.0" font-family="Liberation Sans" font-size="24" font-weight="normal" text-anchor="middle" fill="#222" transform="rotate(-90 1293.0 388.0)">AD</text><line x1="1129.7" y1="375.3" x2="1169.8" y2="411.0" stroke="#2b2b2b" stroke-width="1.40"/><line x1="1119.0" y1="384.0" x2="1145.0" y2="361.0" stroke="#2b2b2b" stroke-width="1.40"/><polygon points="1126.0,378.0 1129.3,371.1 1133.2,375.6" fill="#2b2b2b"/><polygon points="1138.0,367.0 1134.7,373.9 1130.8,369.4" fill="#2b2b2b"/><text x="1127.0" y="366.0" font-family="Liberation Sans" font-size="22" font-weight="normal" text-anchor="middle" fill="#222" transform="rotate(-45 1127.0 366.0)">S</text><text x="1344.0" y="254.0" font-family="Liberation Sans" font-size="42" font-weight="bold" text-anchor="start" fill="#222" textLength="107.0">IMB5</text><line x1="1356.6" y1="323.2" x2="1365.6" y2="314.2" stroke="#555" stroke-width="1.00"/><line x1="1356.5" y1="328.1" x2="1370.5" y2="314.1" stroke="#555" stroke-width="1.00"/><line x1="1357.8" y1="331.6" x2="1374.0" y2="315.4" stroke="#555" stroke-width="1.00"/><line x1="1359.8" y1="334.4" x2="1376.8" y2="317.4" stroke="#555" stroke-width="1.00"/><line x1="1362.6" y1="336.4" x2="1378.8" y2="320.2" stroke="#555" stroke-width="1.00"/><line x1="1366.1" y1="337.7" x2="1380.1" y2="323.7" stroke="#555" stroke-width="1.00"/><line x1="1371.0" y1="337.6" x2="1380.0" y2="328.6" stroke="#555" stroke-width="1.00"/><circle cx="1368.3" cy="325.9" r="12.0" fill="none" stroke="#2b2b2b" stroke-width="1.70"/><rect x="1366.1" y="312.9" width="4.4" height="9" fill="#fff"/><line x1="1366.1" y1="300.3" x2="1366.1" y2="317.3" stroke="#2b2b2b" stroke-width="1.40"/><line x1="1370.5" y1="300.3" x2="1370.5" y2="317.3" stroke="#2b2b2b" stroke-width="1.40"/><line x1="1366.1" y1="317.3" x2="1370.5" y2="317.3" stroke="#2b2b2b" stroke-width="1.20"/><line x1="1351.3" y1="300.3" x2="1366.1" y2="300.3" stroke="#2b2b2b" stroke-width="1.30"/><line x1="1370.5" y1="300.3" x2="1385.3" y2="300.3" stroke="#2b2b2b" stroke-width="1.30"/><polygon points="1366.1,300.3 1358.1,303.3 1358.1,297.3" fill="#2b2b2b"/><polygon points="1370.5,300.3 1378.5,297.3 1378.5,303.3" fill="#2b2b2b"/><text x="1372.6" y="292.9" font-family="Liberation Sans" font-size="21" font-weight="normal" text-anchor="middle" fill="#222">F</text><line x1="1340.7" y1="318.4" x2="1360.3" y2="318.4" stroke="#2b2b2b" stroke-width="1.20"/><line x1="1340.7" y1="336.5" x2="1363.3" y2="336.5" stroke="#2b2b2b" stroke-width="1.20"/><line x1="1344.9" y1="318.4" x2="1344.9" y2="336.5" stroke="#2b2b2b" stroke-width="1.30"/><polygon points="1344.9,318.4 1347.7,324.4 1342.1,324.4" fill="#2b2b2b"/><polygon points="1344.9,336.5 1342.1,330.5 1347.7,330.5" fill="#2b2b2b"/><text x="1337.3" y="326.9" font-family="Liberation Sans" font-size="21" font-weight="normal" text-anchor="middle" fill="#222" transform="rotate(-90 1337.3 326.9)">G</text><line x1="1355.6" y1="328.9" x2="1355.6" y2="355.9" stroke="#2b2b2b" stroke-width="1.20"/><line x1="1381.1" y1="315.9" x2="1381.1" y2="355.9" stroke="#2b2b2b" stroke-width="1.20"/><line x1="1355.6" y1="342.9" x2="1381.1" y2="342.9" stroke="#2b2b2b" stroke-width="1.30"/><polygon points="1355.6,342.9 1362.6,339.9 1362.6,345.9" fill="#2b2b2b"/><polygon points="1381.1,342.9 1374.1,345.9 1374.1,339.9" fill="#2b2b2b"/><text x="1368.8" y="368.5" font-family="Liberation Sans" font-size="21" font-weight="normal" text-anchor="middle" fill="#222">D</text><line x1="1401.2" y1="300.6" x2="1680.0" y2="300.6" stroke="#2b2b2b" stroke-width="1.60"/><polygon points="1401.2,300.6 1411.2,297.1 1411.2,304.1" fill="#2b2b2b"/><polygon points="1680.0,300.6 1670.0,304.1 1670.0,297.1" fill="#2b2b2b"/><text x="1542.0" y="295.0" font-family="Liberation Sans" font-size="22" font-weight="normal" text-anchor="middle" fill="#222">L</text><line x1="1401.2" y1="292.0" x2="1401.2" y2="564.0" stroke="#2b2b2b" stroke-width="1.40"/><line x1="1680.0" y1="292.0" x2="1680.0" y2="383.0" stroke="#2b2b2b" stroke-width="1.40"/><line x1="1443.0" y1="316.0" x2="1443.0" y2="507.0" stroke="#2b2b2b" stroke-width="1.50"/><line x1="1448.4" y1="316.0" x2="1448.4" y2="507.0" stroke="#2b2b2b" stroke-width="1.50"/><line x1="1432.0" y1="318.0" x2="1462.0" y2="318.0" stroke="#2b2b2b" stroke-width="1.30"/><line x1="1432.0" y1="334.6" x2="1462.0" y2="334.6" stroke="#2b2b2b" stroke-width="1.30"/><polygon points="1443.0,318.0 1435.0,321.0 1435.0,315.0" fill="#2b2b2b"/><polygon points="1448.4,334.6 1456.4,331.6 1456.4,337.6" fill="#2b2b2b"/><line x1="1457.0" y1="318.0" x2="1457.0" y2="334.0" stroke="#2b2b2b" stroke-width="1.30"/><text x="1459.0" y="316.0" font-family="Liberation Sans" font-size="18" font-weight="normal" text-anchor="middle" fill="#222">R</text><rect x="1448.4" y="344.5" width="10.0" height="186.6" rx="0.0" fill="none" stroke="#2b2b2b" stroke-width="1.60"/><line x1="1379.3" y1="370.9" x2="1379.3" y2="505.9" stroke="#2b2b2b" stroke-width="1.60"/><polygon points="1379.3,370.9 1382.8,380.9 1375.8,380.9" fill="#2b2b2b"/><polygon points="1379.3,505.9 1375.8,495.9 1382.8,495.9" fill="#2b2b2b"/><line x1="1376.0" y1="370.9" x2="1447.0" y2="370.9" stroke="#2b2b2b" stroke-width="1.30"/><line x1="1376.0" y1="505.9" x2="1447.0" y2="505.9" stroke="#2b2b2b" stroke-width="1.30"/><text x="1377.0" y="438.0" font-family="Liberation Sans" font-size="22" font-weight="normal" text-anchor="middle" fill="#222" transform="rotate(-90 1377.0 438.0)">N</text><rect x="1401.2" y="426.9" width="46.0" height="24.0" rx="0.0" fill="none" stroke="#2b2b2b" stroke-width="1.80"/><rect x="1458.3" y="366.5" width="24.0" height="140.5" rx="0.0" fill="none" stroke="#2b2b2b" stroke-width="1.60"/><rect x="1475.9" y="328.0" width="66.9" height="17.7" rx="0.0" fill="none" stroke="#2b2b2b" stroke-width="1.80"/><rect x="1477.9" y="345.7" width="62.9" height="20.8" rx="0.0" fill="none" stroke="#2b2b2b" stroke-width="1.60"/><line x1="1478.9" y1="341.1" x2="1489.3" y2="341.1" stroke="#666" stroke-width="1.60"/><line x1="1529.4" y1="341.1" x2="1539.8" y2="341.1" stroke="#666" stroke-width="1.60"/><path d="M1484.6 345.7 L1484.6 353.0 A11.4 11.4 0 0 0 1507.3 353.0 L1507.3 348.7" fill="none" stroke="#2b2b2b" stroke-width="1.60"/><circle cx="1496.0" cy="353.0" r="7.7" fill="none" stroke="#2b2b2b" stroke-width="1.60"/><path d="M1512.7 345.7 L1512.7 353.0 A11.4 11.4 0 0 0 1535.4 353.0 L1535.4 348.7" fill="none" stroke="#2b2b2b" stroke-width="1.60"/><circle cx="1524.1" cy="353.0" r="7.7" fill="none" stroke="#2b2b2b" stroke-width="1.60"/><rect x="1476.0" y="366.5" width="67.0" height="8.0" rx="0.0" fill="none" stroke="#2b2b2b" stroke-width="1.40"/><rect x="1482.5" y="374.2" width="129.5" height="135.0" rx="11.0" fill="none" stroke="#2b2b2b" stroke-width="1.80"/><line x1="1492.5" y1="380.2" x2="1602.0" y2="380.2" stroke="#555" stroke-width="1.20"/><line x1="1492.5" y1="504.2" x2="1602.0" y2="504.2" stroke="#555" stroke-width="1.20"/><line x1="1489.0" y1="397.1" x2="1489.0" y2="479.5" stroke="#2b2b2b" stroke-width="1.50"/><line x1="1603.6" y1="397.1" x2="1603.6" y2="479.5" stroke="#2b2b2b" stroke-width="1.50"/><line x1="1482.5" y1="397.1" x2="1612.0" y2="397.1" stroke="#2b2b2b" stroke-width="1.30"/><line x1="1482.5" y1="479.5" x2="1612.0" y2="479.5" stroke="#2b2b2b" stroke-width="1.30"/><line x1="1482.5" y1="405.2" x2="1612.0" y2="405.2" stroke="#2b2b2b" stroke-width="1.50"/><line x1="1484.5" y1="407.6" x2="1610.0" y2="407.6" stroke="#666" stroke-width="1.00"/><line x1="1482.5" y1="412.7" x2="1612.0" y2="412.7" stroke="#2b2b2b" stroke-width="1.50"/><line x1="1484.5" y1="415.1" x2="1610.0" y2="415.1" stroke="#666" stroke-width="1.00"/><line x1="1482.5" y1="419.4" x2="1612.0" y2="419.4" stroke="#2b2b2b" stroke-width="1.50"/><line x1="1484.5" y1="421.8" x2="1610.0" y2="421.8" stroke="#666" stroke-width="1.00"/><line x1="1482.5" y1="426.8" x2="1612.0" y2="426.8" stroke="#2b2b2b" stroke-width="1.50"/><line x1="1484.5" y1="429.2" x2="1610.0" y2="429.2" stroke="#666" stroke-width="1.00"/><line x1="1482.5" y1="449.1" x2="1612.0" y2="449.1" stroke="#2b2b2b" stroke-width="1.50"/><line x1="1484.5" y1="451.5" x2="1610.0" y2="451.5" stroke="#666" stroke-width="1.00"/><line x1="1482.5" y1="456.5" x2="1612.0" y2="456.5" stroke="#2b2b2b" stroke-width="1.50"/><line x1="1484.5" y1="458.9" x2="1610.0" y2="458.9" stroke="#666" stroke-width="1.00"/><line x1="1482.5" y1="464.6" x2="1612.0" y2="464.6" stroke="#2b2b2b" stroke-width="1.50"/><line x1="1484.5" y1="467.0" x2="1610.0" y2="467.0" stroke="#666" stroke-width="1.00"/><line x1="1482.5" y1="471.4" x2="1612.0" y2="471.4" stroke="#2b2b2b" stroke-width="1.50"/><line x1="1484.5" y1="473.8" x2="1610.0" y2="473.8" stroke="#666" stroke-width="1.00"/><rect x="1509.7" y="379.6" width="76.4" height="20.2" rx="0.0" fill="none" stroke="#2b2b2b" stroke-width="1.60"/><line x1="1522.6" y1="379.6" x2="1522.6" y2="399.8" stroke="#2b2b2b" stroke-width="1.30"/><line x1="1573.2" y1="379.6" x2="1573.2" y2="399.8" stroke="#2b2b2b" stroke-width="1.30"/><rect x="1525.2" y="386.7" width="45.3" height="7.1" rx="0.0" fill="none" stroke="#2b2b2b" stroke-width="1.30"/><rect x="1509.7" y="483.6" width="76.4" height="20.2" rx="0.0" fill="none" stroke="#2b2b2b" stroke-width="1.60"/><line x1="1522.6" y1="483.6" x2="1522.6" y2="503.8" stroke="#2b2b2b" stroke-width="1.30"/><line x1="1573.2" y1="483.6" x2="1573.2" y2="503.8" stroke="#2b2b2b" stroke-width="1.30"/><rect x="1525.2" y="490.6" width="45.3" height="7.1" rx="0.0" fill="none" stroke="#2b2b2b" stroke-width="1.30"/><path d="M1495.5 441.7 L1499.3 434.7 L1512.3 434.7 L1512.3 448.7 L1499.3 448.7 L1495.5 441.7 Z" fill="none" stroke="#2b2b2b" stroke-width="1.40"/><circle cx="1522.6" cy="441.7" r="5.5" fill="none" stroke="#2b2b2b" stroke-width="1.40"/><circle cx="1546.0" cy="441.7" r="8.0" fill="none" stroke="#2b2b2b" stroke-width="1.40"/><circle cx="1568.0" cy="441.7" r="5.5" fill="none" stroke="#2b2b2b" stroke-width="1.40"/><line x1="1512.3" y1="441.7" x2="1599.0" y2="441.7" stroke="#444" stroke-width="3.00"/><rect x="1597.0" y="437.7" width="6.0" height="8.0" rx="0.0" fill="none" stroke="#2b2b2b" stroke-width="1.20"/><rect x="1484.5" y="431.7" width="8.0" height="20.0" rx="0.0" fill="none" stroke="#2b2b2b" stroke-width="1.40"/><rect x="1602.0" y="431.7" width="8.0" height="20.0" rx="0.0" fill="none" stroke="#2b2b2b" stroke-width="1.40"/><rect x="1613.0" y="365.4" width="40.7" height="146.0" rx="0.0" fill="none" stroke="#2b2b2b" stroke-width="1.80"/><path d="M1653.7 365.4 L1680.0 379.4 L1680.0 497.4 L1653.7 511.4" fill="none" stroke="#2b2b2b" stroke-width="1.80"/><line x1="1392.0" y1="437.8" x2="1682.0" y2="437.8" stroke="#2b2b2b" stroke-width="1.20" stroke-dasharray="14 5 3 5"/><line x1="1703.0" y1="365.4" x2="1703.0" y2="511.4" stroke="#2b2b2b" stroke-width="1.60"/><polygon points="1703.0,365.4 1706.5,375.4 1699.5,375.4" fill="#2b2b2b"/><polygon points="1703.0,511.4 1699.5,501.4 1706.5,501.4" fill="#2b2b2b"/><line x1="1613.0" y1="365.4" x2="1709.0" y2="365.4" stroke="#2b2b2b" stroke-width="1.30"/><line x1="1653.7" y1="511.4" x2="1709.0" y2="511.4" stroke="#2b2b2b" stroke-width="1.30"/><text x="1700.0" y="438.0" font-family="Liberation Sans" font-size="24" font-weight="normal" text-anchor="middle" fill="#222" transform="rotate(-90 1700.0 438.0)">AC</text><line x1="1401.2" y1="561.9" x2="1448.4" y2="561.9" stroke="#2b2b2b" stroke-width="1.60"/><polygon points="1401.2,561.9 1411.2,558.4 1411.2,565.4" fill="#2b2b2b"/><polygon points="1448.4,561.9 1438.4,565.4 1438.4,558.4" fill="#2b2b2b"/><text x="1426.0" y="556.0" font-family="Liberation Sans" font-size="22" font-weight="normal" text-anchor="middle" fill="#222">E</text><line x1="1448.4" y1="531.0" x2="1448.4" y2="566.0" stroke="#2b2b2b" stroke-width="1.30"/><path d="M1777 360 L1777 338 Q1777 328 1787 328 L1850 328 Q1856 328 1856 336 L1856 350" fill="none" stroke="#2b2b2b" stroke-width="1.80"/><line x1="1777.0" y1="358.0" x2="1856.0" y2="340.0" stroke="#2b2b2b" stroke-width="1.50"/><rect x="1857.0" y="338.0" width="20.0" height="23.0" rx="0.0" fill="none" stroke="#2b2b2b" stroke-width="1.50"/><line x1="1863.0" y1="338.0" x2="1863.0" y2="361.0" stroke="#2b2b2b" stroke-width="1.20"/><line x1="1871.0" y1="338.0" x2="1871.0" y2="361.0" stroke="#2b2b2b" stroke-width="1.20"/><circle cx="1815.1" cy="438.2" r="92.0" fill="#fff" stroke="#2b2b2b" stroke-width="1.80"/><circle cx="1815.1" cy="438.2" r="78.6" fill="none" stroke="#2b2b2b" stroke-width="1.40" stroke-dasharray="12 7"/><circle cx="1815.1" cy="438.2" r="65.0" fill="none" stroke="#2b2b2b" stroke-width="1.80"/><circle cx="1815.1" cy="438.2" r="62.0" fill="none" stroke="#2b2b2b" stroke-width="1.50"/><circle cx="1815.1" cy="438.2" r="29.5" fill="none" stroke="#2b2b2b" stroke-width="1.50"/><circle cx="1815.1" cy="438.2" r="26.0" fill="none" stroke="#2b2b2b" stroke-width="1.50"/><circle cx="1815.1" cy="438.2" r="21.0" fill="none" stroke="#2b2b2b" stroke-width="1.50"/><circle cx="1815.1" cy="438.2" r="13.0" fill="none" stroke="#2b2b2b" stroke-width="1.50"/><circle cx="1815.1" cy="429.2" r="4.0" fill="none" stroke="#2b2b2b" stroke-width="1.60"/><circle cx="1815.0" cy="374.6" r="13.0" fill="#fff" stroke="#2b2b2b" stroke-width="2.20"/><circle cx="1815.0" cy="374.6" r="3.5" fill="none" stroke="#2b2b2b" stroke-width="1.40"/><circle cx="1815.0" cy="502.8" r="13.0" fill="#fff" stroke="#2b2b2b" stroke-width="2.20"/><circle cx="1815.0" cy="502.8" r="3.5" fill="none" stroke="#2b2b2b" stroke-width="1.40"/><circle cx="1751.5" cy="438.2" r="13.0" fill="#fff" stroke="#2b2b2b" stroke-width="2.20"/><circle cx="1751.5" cy="438.2" r="3.5" fill="none" stroke="#2b2b2b" stroke-width="1.40"/><circle cx="1878.8" cy="438.2" r="13.0" fill="#fff" stroke="#2b2b2b" stroke-width="2.20"/><circle cx="1878.8" cy="438.2" r="3.5" fill="none" stroke="#2b2b2b" stroke-width="1.40"/><circle cx="1760.0" cy="382.0" r="5.0" fill="none" stroke="#2b2b2b" stroke-width="1.60"/><circle cx="1870.0" cy="382.0" r="5.0" fill="none" stroke="#2b2b2b" stroke-width="1.60"/><circle cx="1760.0" cy="494.4" r="5.0" fill="none" stroke="#2b2b2b" stroke-width="1.60"/><circle cx="1870.0" cy="494.4" r="5.0" fill="none" stroke="#2b2b2b" stroke-width="1.60"/><line x1="1728.0" y1="438.2" x2="1905.0" y2="438.2" stroke="#2b2b2b" stroke-width="1.20" stroke-dasharray="12 4 3 4"/><line x1="1815.1" y1="405.0" x2="1815.1" y2="475.0" stroke="#2b2b2b" stroke-width="1.20" stroke-dasharray="10 4"/><line x1="1936.8" y1="328.7" x2="1936.8" y2="438.2" stroke="#2b2b2b" stroke-width="1.60"/><polygon points="1936.8,328.7 1940.3,338.7 1933.3,338.7" fill="#2b2b2b"/><polygon points="1936.8,438.2 1933.3,428.2 1940.3,428.2" fill="#2b2b2b"/><line x1="1855.0" y1="328.7" x2="1940.0" y2="328.7" stroke="#2b2b2b" stroke-width="1.30"/><line x1="1895.0" y1="438.2" x2="1940.0" y2="438.2" stroke="#2b2b2b" stroke-width="1.30"/><text x="1932.0" y="377.0" font-family="Liberation Sans" font-size="24" font-weight="normal" text-anchor="middle" fill="#222" transform="rotate(-90 1932.0 377.0)">AD</text><line x1="1735.6" y1="558.0" x2="1895.6" y2="558.0" stroke="#2b2b2b" stroke-width="1.60"/><polygon points="1735.6,558.0 1745.6,554.5 1745.6,561.5" fill="#2b2b2b"/><polygon points="1895.6,558.0 1885.6,561.5 1885.6,554.5" fill="#2b2b2b"/><text x="1815.0" y="551.0" font-family="Liberation Sans" font-size="22" font-weight="normal" text-anchor="middle" fill="#222">M</text><line x1="1722.5" y1="584.2" x2="1907.8" y2="584.2" stroke="#2b2b2b" stroke-width="1.60"/><polygon points="1722.5,584.2 1732.5,580.7 1732.5,587.7" fill="#2b2b2b"/><polygon points="1907.8,584.2 1897.8,587.7 1897.8,580.7" fill="#2b2b2b"/><text x="1815.0" y="580.0" font-family="Liberation Sans" font-size="22" font-weight="normal" text-anchor="middle" fill="#222">P</text><line x1="1722.5" y1="439.0" x2="1722.5" y2="591.0" stroke="#2b2b2b" stroke-width="1.30"/><line x1="1907.8" y1="439.0" x2="1907.8" y2="591.0" stroke="#2b2b2b" stroke-width="1.30"/><line x1="1735.6" y1="430.0" x2="1735.6" y2="562.0" stroke="#2b2b2b" stroke-width="1.30"/><line x1="1895.6" y1="422.0" x2="1895.6" y2="562.0" stroke="#2b2b2b" stroke-width="1.30"/><line x1="1743.0" y1="364.3" x2="1754.3" y2="382.0" stroke="#2b2b2b" stroke-width="1.40"/><line x1="1730.0" y1="374.6" x2="1752.4" y2="354.0" stroke="#2b2b2b" stroke-width="1.40"/><polygon points="1735.0,370.0 1738.1,363.1 1742.2,367.5" fill="#2b2b2b"/><polygon points="1747.0,359.0 1743.9,365.9 1739.8,361.5" fill="#2b2b2b"/><text x="1737.0" y="352.0" font-family="Liberation Sans" font-size="22" font-weight="normal" text-anchor="middle" fill="#222" transform="rotate(-45 1737.0 352.0)">S</text></svg>
<div class="a" style="left:38px;top:712px;width:104px;height:834px;background:#4f81bd"></div>
<div class="a" style="left:146px;top:712px;width:1436px;height:74px;background:#4f81bd"></div>
<div class="a" style="left:38px;top:716.0px;width:104px;height:1px;background:rgba(255,255,255,0.14)"></div>
<div class="a" style="left:38px;top:798.5px;width:104px;height:1px;background:rgba(255,255,255,0.14)"></div>
<div class="a" style="left:38px;top:854.0px;width:104px;height:1px;background:rgba(255,255,255,0.14)"></div>
<div class="a" style="left:46.5px;top:798.5px;width:1px;height:55px;background:rgba(255,255,255,0.14)"></div>
<div class="a" style="left:138.5px;top:798.5px;width:1px;height:55px;background:rgba(255,255,255,0.14)"></div>
<div class="a" style="left:38px;top:936.5px;width:104px;height:1px;background:rgba(255,255,255,0.14)"></div>
<div class="a" style="left:38px;top:945.0px;width:104px;height:1px;background:rgba(255,255,255,0.14)"></div>
<div class="a" style="left:38px;top:958.5px;width:104px;height:1px;background:rgba(255,255,255,0.14)"></div>
<div class="a" style="left:38px;top:991.0px;width:104px;height:1px;background:rgba(255,255,255,0.14)"></div>
<div class="a" style="left:38px;top:1004.0px;width:104px;height:1px;background:rgba(255,255,255,0.14)"></div>
<div class="a" style="left:46.5px;top:958.5px;width:1px;height:33px;background:rgba(255,255,255,0.14)"></div>
<div class="a" style="left:138.5px;top:958.5px;width:1px;height:33px;background:rgba(255,255,255,0.14)"></div>
<div class="a" style="left:38px;top:1004.2px;width:104px;height:1px;background:rgba(255,255,255,0.14)"></div>
<div class="a" style="left:38px;top:1012.8px;width:104px;height:1px;background:rgba(255,255,255,0.14)"></div>
<div class="a" style="left:38px;top:1026.2px;width:104px;height:1px;background:rgba(255,255,255,0.14)"></div>
<div class="a" style="left:38px;top:1058.8px;width:104px;height:1px;background:rgba(255,255,255,0.14)"></div>
<div class="a" style="left:38px;top:1071.8px;width:104px;height:1px;background:rgba(255,255,255,0.14)"></div>
<div class="a" style="left:46.5px;top:1026.2px;width:1px;height:33px;background:rgba(255,255,255,0.14)"></div>
<div class="a" style="left:138.5px;top:1026.2px;width:1px;height:33px;background:rgba(255,255,255,0.14)"></div>
<div class="a" style="left:38px;top:1072.0px;width:104px;height:1px;background:rgba(255,255,255,0.14)"></div>
<div class="a" style="left:38px;top:1080.5px;width:104px;height:1px;background:rgba(255,255,255,0.14)"></div>
<div class="a" style="left:38px;top:1094.0px;width:104px;height:1px;background:rgba(255,255,255,0.14)"></div>
<div class="a" style="left:38px;top:1126.5px;width:104px;height:1px;background:rgba(255,255,255,0.14)"></div>
<div class="a" style="left:38px;top:1139.5px;width:104px;height:1px;background:rgba(255,255,255,0.14)"></div>
<div class="a" style="left:46.5px;top:1094.0px;width:1px;height:33px;background:rgba(255,255,255,0.14)"></div>
<div class="a" style="left:138.5px;top:1094.0px;width:1px;height:33px;background:rgba(255,255,255,0.14)"></div>
<div class="a" style="left:38px;top:1139.8px;width:104px;height:1px;background:rgba(255,255,255,0.14)"></div>
<div class="a" style="left:38px;top:1148.2px;width:104px;height:1px;background:rgba(255,255,255,0.14)"></div>
<div class="a" style="left:38px;top:1161.8px;width:104px;height:1px;background:rgba(255,255,255,0.14)"></div>
<div class="a" style="left:38px;top:1194.2px;width:104px;height:1px;background:rgba(255,255,255,0.14)"></div>
<div class="a" style="left:38px;top:1207.2px;width:104px;height:1px;background:rgba(255,255,255,0.14)"></div>
<div class="a" style="left:46.5px;top:1161.8px;width:1px;height:33px;background:rgba(255,255,255,0.14)"></div>
<div class="a" style="left:138.5px;top:1161.8px;width:1px;height:33px;background:rgba(255,255,255,0.14)"></div>
<div class="a" style="left:38px;top:1207.5px;width:104px;height:1px;background:rgba(255,255,255,0.14)"></div>
<div class="a" style="left:38px;top:1216.0px;width:104px;height:1px;background:rgba(255,255,255,0.14)"></div>
<div class="a" style="left:38px;top:1229.5px;width:104px;height:1px;background:rgba(255,255,255,0.14)"></div>
<div class="a" style="left:38px;top:1262.0px;width:104px;height:1px;background:rgba(255,255,255,0.14)"></div>
<div class="a" style="left:38px;top:1275.0px;width:104px;height:1px;background:rgba(255,255,255,0.14)"></div>
<div class="a" style="left:46.5px;top:1229.5px;width:1px;height:33px;background:rgba(255,255,255,0.14)"></div>
<div class="a" style="left:138.5px;top:1229.5px;width:1px;height:33px;background:rgba(255,255,255,0.14)"></div>
<div class="a" style="left:38px;top:1275.2px;width:104px;height:1px;background:rgba(255,255,255,0.14)"></div>
<div class="a" style="left:38px;top:1283.8px;width:104px;height:1px;background:rgba(255,255,255,0.14)"></div>
<div class="a" style="left:38px;top:1297.2px;width:104px;height:1px;background:rgba(255,255,255,0.14)"></div>
<div class="a" style="left:38px;top:1329.8px;width:104px;height:1px;background:rgba(255,255,255,0.14)"></div>
<div class="a" style="left:38px;top:1342.8px;width:104px;height:1px;background:rgba(255,255,255,0.14)"></div>
<div class="a" style="left:46.5px;top:1297.2px;width:1px;height:33px;background:rgba(255,255,255,0.14)"></div>
<div class="a" style="left:138.5px;top:1297.2px;width:1px;height:33px;background:rgba(255,255,255,0.14)"></div>
<div class="a" style="left:38px;top:1343.0px;width:104px;height:1px;background:rgba(255,255,255,0.14)"></div>
<div class="a" style="left:38px;top:1351.5px;width:104px;height:1px;background:rgba(255,255,255,0.14)"></div>
<div class="a" style="left:38px;top:1365.0px;width:104px;height:1px;background:rgba(255,255,255,0.14)"></div>
<div class="a" style="left:38px;top:1397.5px;width:104px;height:1px;background:rgba(255,255,255,0.14)"></div>
<div class="a" style="left:38px;top:1410.5px;width:104px;height:1px;background:rgba(255,255,255,0.14)"></div>
<div class="a" style="left:46.5px;top:1365.0px;width:1px;height:33px;background:rgba(255,255,255,0.14)"></div>
<div class="a" style="left:138.5px;top:1365.0px;width:1px;height:33px;background:rgba(255,255,255,0.14)"></div>
<div class="a" style="left:38px;top:1410.8px;width:104px;height:1px;background:rgba(255,255,255,0.14)"></div>
<div class="a" style="left:38px;top:1419.2px;width:104px;height:1px;background:rgba(255,255,255,0.14)"></div>
<div class="a" style="left:38px;top:1432.8px;width:104px;height:1px;background:rgba(255,255,255,0.14)"></div>
<div class="a" style="left:38px;top:1465.2px;width:104px;height:1px;background:rgba(255,255,255,0.14)"></div>
<div class="a" style="left:38px;top:1478.2px;width:104px;height:1px;background:rgba(255,255,255,0.14)"></div>
<div class="a" style="left:46.5px;top:1432.8px;width:1px;height:33px;background:rgba(255,255,255,0.14)"></div>
<div class="a" style="left:138.5px;top:1432.8px;width:1px;height:33px;background:rgba(255,255,255,0.14)"></div>
<div class="a" style="left:38px;top:1478.5px;width:104px;height:1px;background:rgba(255,255,255,0.14)"></div>
<div class="a" style="left:38px;top:1487.0px;width:104px;height:1px;background:rgba(255,255,255,0.14)"></div>
<div class="a" style="left:38px;top:1500.5px;width:104px;height:1px;background:rgba(255,255,255,0.14)"></div>
<div class="a" style="left:38px;top:1533.0px;width:104px;height:1px;background:rgba(255,255,255,0.14)"></div>
<div class="a" style="left:38px;top:1546.0px;width:104px;height:1px;background:rgba(255,255,255,0.14)"></div>
<div class="a" style="left:46.5px;top:1500.5px;width:1px;height:33px;background:rgba(255,255,255,0.14)"></div>
<div class="a" style="left:138.5px;top:1500.5px;width:1px;height:33px;background:rgba(255,255,255,0.14)"></div>
<div class="a" style="left:150px;top:716px;width:1432px;height:1px;background:rgba(255,255,255,0.14)"></div>
<div class="a" style="left:1586px;top:716px;width:432px;height:1px;background:rgba(255,255,255,0.14)"></div>
<div class="a" style="left:167.5px;top:736px;width:1px;height:31px;background:rgba(255,255,255,0.14)"></div>
<div class="a" style="left:1566.0px;top:736px;width:1px;height:31px;background:rgba(255,255,255,0.14)"></div>
<div class="a" style="left:1606.0px;top:736px;width:1px;height:31px;background:rgba(255,255,255,0.14)"></div>
<div class="a" style="left:2000.0px;top:736px;width:1px;height:31px;background:rgba(255,255,255,0.14)"></div>
<div class="a" style="left:142px;top:716px;width:8px;height:70px;background:#fff"></div>
<div class="a" style="left:1586px;top:712px;width:432px;height:74px;background:#4f81bd"></div>
<div class="a" style="left:153px;top:797px;width:439px;height:32px;background:#a7bfde"></div>
<div class="a" style="left:595px;top:797px;width:325px;height:32px;background:#a7bfde"></div>
<div class="a" style="left:924px;top:797px;width:335px;height:32px;background:#a7bfde"></div>
<div class="a" style="left:1263px;top:797px;width:319px;height:32px;background:#a7bfde"></div>
<div class="a" style="left:1586px;top:797px;width:432px;height:32px;background:#a7bfde"></div>
<div class="a" style="left:153px;top:833px;width:57px;height:103px;background:#d3dfee"></div>
<div class="a" style="left:213px;top:833px;width:59px;height:103px;background:#d3dfee"></div>
<div class="a" style="left:275px;top:833px;width:60px;height:103px;background:#d3dfee"></div>
<div class="a" style="left:338px;top:833px;width:44px;height:103px;background:#d3dfee"></div>
<div class="a" style="left:385px;top:833px;width:56px;height:103px;background:#d3dfee"></div>
<div class="a" style="left:444px;top:833px;width:45px;height:103px;background:#d3dfee"></div>
<div class="a" style="left:492px;top:833px;width:55px;height:103px;background:#d3dfee"></div>
<div class="a" style="left:549px;top:833px;width:43px;height:103px;background:#d3dfee"></div>
<div class="a" style="left:595px;top:833px;width:63px;height:103px;background:#d3dfee"></div>
<div class="a" style="left:661px;top:833px;width:61px;height:103px;background:#d3dfee"></div>
<div class="a" style="left:725px;top:833px;width:60px;height:103px;background:#d3dfee"></div>
<div class="a" style="left:788px;top:833px;width:65px;height:103px;background:#d3dfee"></div>
<div class="a" style="left:856px;top:833px;width:64px;height:103px;background:#d3dfee"></div>
<div class="a" style="left:924px;top:833px;width:59px;height:103px;background:#d3dfee"></div>
<div class="a" style="left:987px;top:833px;width:59px;height:103px;background:#d3dfee"></div>
<div class="a" style="left:1049px;top:833px;width:60px;height:103px;background:#d3dfee"></div>
<div class="a" style="left:1112px;top:833px;width:73px;height:103px;background:#d3dfee"></div>
<div class="a" style="left:1188px;top:833px;width:71px;height:103px;background:#d3dfee"></div>
<div class="a" style="left:1263px;top:833px;width:54px;height:103px;background:#d3dfee"></div>
<div class="a" style="left:1320px;top:833px;width:72px;height:103px;background:#d3dfee"></div>
<div class="a" style="left:1395px;top:833px;width:59px;height:103px;background:#d3dfee"></div>
<div class="a" style="left:1457px;top:833px;width:57px;height:103px;background:#d3dfee"></div>
<div class="a" style="left:1517px;top:833px;width:65px;height:103px;background:#d3dfee"></div>
<div class="a" style="left:1586px;top:833px;width:55px;height:103px;background:#d3dfee"></div>
<div class="a" style="left:1644px;top:833px;width:71px;height:103px;background:#d3dfee"></div>
<div class="a" style="left:1719px;top:833px;width:71px;height:103px;background:#d3dfee"></div>
<div class="a" style="left:1794px;top:833px;width:71px;height:103px;background:#d3dfee"></div>
<div class="a" style="left:1869px;top:833px;width:71px;height:103px;background:#d3dfee"></div>
<div class="a" style="left:1943px;top:833px;width:75px;height:103px;background:#d3dfee"></div>
<div class="a" style="left:153px;top:940.0px;width:57px;height:64px;background:#a7bfde"></div>
<div class="a" style="left:213px;top:940.0px;width:59px;height:64px;background:#a7bfde"></div>
<div class="a" style="left:275px;top:940.0px;width:60px;height:64px;background:#a7bfde"></div>
<div class="a" style="left:338px;top:940.0px;width:44px;height:64px;background:#a7bfde"></div>
<div class="a" style="left:385px;top:940.0px;width:56px;height:64px;background:#a7bfde"></div>
<div class="a" style="left:444px;top:940.0px;width:45px;height:64px;background:#a7bfde"></div>
<div class="a" style="left:492px;top:940.0px;width:55px;height:64px;background:#a7bfde"></div>
<div class="a" style="left:549px;top:940.0px;width:43px;height:64px;background:#a7bfde"></div>
<div class="a" style="left:595px;top:940.0px;width:63px;height:64px;background:#a7bfde"></div>
<div class="a" style="left:661px;top:940.0px;width:61px;height:64px;background:#a7bfde"></div>
<div class="a" style="left:725px;top:940.0px;width:60px;height:64px;background:#a7bfde"></div>
<div class="a" style="left:788px;top:940.0px;width:65px;height:64px;background:#a7bfde"></div>
<div class="a" style="left:856px;top:940.0px;width:64px;height:64px;background:#a7bfde"></div>
<div class="a" style="left:924px;top:940.0px;width:59px;height:64px;background:#a7bfde"></div>
<div class="a" style="left:987px;top:940.0px;width:59px;height:64px;background:#a7bfde"></div>
<div class="a" style="left:1049px;top:940.0px;width:60px;height:64px;background:#a7bfde"></div>
<div class="a" style="left:1112px;top:940.0px;width:73px;height:64px;background:#a7bfde"></div>
<div class="a" style="left:1188px;top:940.0px;width:71px;height:64px;background:#a7bfde"></div>
<div class="a" style="left:1263px;top:940.0px;width:54px;height:64px;background:#a7bfde"></div>
<div class="a" style="left:1320px;top:940.0px;width:72px;height:64px;background:#a7bfde"></div>
<div class="a" style="left:1395px;top:940.0px;width:59px;height:64px;background:#a7bfde"></div>
<div class="a" style="left:1457px;top:940.0px;width:57px;height:64px;background:#a7bfde"></div>
<div class="a" style="left:1517px;top:940.0px;width:65px;height:64px;background:#a7bfde"></div>
<div class="a" style="left:1586px;top:940.0px;width:55px;height:64px;background:#a7bfde"></div>
<div class="a" style="left:1644px;top:940.0px;width:71px;height:64px;background:#a7bfde"></div>
<div class="a" style="left:1719px;top:940.0px;width:71px;height:64px;background:#a7bfde"></div>
<div class="a" style="left:1794px;top:940.0px;width:71px;height:64px;background:#a7bfde"></div>
<div class="a" style="left:1869px;top:940.0px;width:71px;height:64px;background:#a7bfde"></div>
<div class="a" style="left:1943px;top:940.0px;width:75px;height:64px;background:#a7bfde"></div>
<div class="a" style="left:153px;top:1007.8px;width:57px;height:64px;background:#d3dfee"></div>
<div class="a" style="left:213px;top:1007.8px;width:59px;height:64px;background:#d3dfee"></div>
<div class="a" style="left:275px;top:1007.8px;width:60px;height:64px;background:#d3dfee"></div>
<div class="a" style="left:338px;top:1007.8px;width:44px;height:64px;background:#d3dfee"></div>
<div class="a" style="left:385px;top:1007.8px;width:56px;height:64px;background:#d3dfee"></div>
<div class="a" style="left:444px;top:1007.8px;width:45px;height:64px;background:#d3dfee"></div>
<div class="a" style="left:492px;top:1007.8px;width:55px;height:64px;background:#d3dfee"></div>
<div class="a" style="left:549px;top:1007.8px;width:43px;height:64px;background:#d3dfee"></div>
<div class="a" style="left:595px;top:1007.8px;width:63px;height:64px;background:#d3dfee"></div>
<div class="a" style="left:661px;top:1007.8px;width:61px;height:64px;background:#d3dfee"></div>
<div class="a" style="left:725px;top:1007.8px;width:60px;height:64px;background:#d3dfee"></div>
<div class="a" style="left:788px;top:1007.8px;width:65px;height:64px;background:#d3dfee"></div>
<div class="a" style="left:856px;top:1007.8px;width:64px;height:64px;background:#d3dfee"></div>
<div class="a" style="left:924px;top:1007.8px;width:59px;height:64px;background:#d3dfee"></div>
<div class="a" style="left:987px;top:1007.8px;width:59px;height:64px;background:#d3dfee"></div>
<div class="a" style="left:1049px;top:1007.8px;width:60px;height:64px;background:#d3dfee"></div>
<div class="a" style="left:1112px;top:1007.8px;width:73px;height:64px;background:#d3dfee"></div>
<div class="a" style="left:1188px;top:1007.8px;width:71px;height:64px;background:#d3dfee"></div>
<div class="a" style="left:1263px;top:1007.8px;width:54px;height:64px;background:#d3dfee"></div>
<div class="a" style="left:1320px;top:1007.8px;width:72px;height:64px;background:#d3dfee"></div>
<div class="a" style="left:1395px;top:1007.8px;width:59px;height:64px;background:#d3dfee"></div>
<div class="a" style="left:1457px;top:1007.8px;width:57px;height:64px;background:#d3dfee"></div>
<div class="a" style="left:1517px;top:1007.8px;width:65px;height:64px;background:#d3dfee"></div>
<div class="a" style="left:1586px;top:1007.8px;width:55px;height:64px;background:#d3dfee"></div>
<div class="a" style="left:1644px;top:1007.8px;width:71px;height:64px;background:#d3dfee"></div>
<div class="a" style="left:1719px;top:1007.8px;width:71px;height:64px;background:#d3dfee"></div>
<div class="a" style="left:1794px;top:1007.8px;width:71px;height:64px;background:#d3dfee"></div>
<div class="a" style="left:1869px;top:1007.8px;width:71px;height:64px;background:#d3dfee"></div>
<div class="a" style="left:1943px;top:1007.8px;width:75px;height:64px;background:#d3dfee"></div>
<div class="a" style="left:153px;top:1075.5px;width:57px;height:64px;background:#a7bfde"></div>
<div class="a" style="left:213px;top:1075.5px;width:59px;height:64px;background:#a7bfde"></div>
<div class="a" style="left:275px;top:1075.5px;width:60px;height:64px;background:#a7bfde"></div>
<div class="a" style="left:338px;top:1075.5px;width:44px;height:64px;background:#a7bfde"></div>
<div class="a" style="left:385px;top:1075.5px;width:56px;height:64px;background:#a7bfde"></div>
<div class="a" style="left:444px;top:1075.5px;width:45px;height:64px;background:#a7bfde"></div>
<div class="a" style="left:492px;top:1075.5px;width:55px;height:64px;background:#a7bfde"></div>
<div class="a" style="left:549px;top:1075.5px;width:43px;height:64px;background:#a7bfde"></div>
<div class="a" style="left:595px;top:1075.5px;width:63px;height:64px;background:#a7bfde"></div>
<div class="a" style="left:661px;top:1075.5px;width:61px;height:64px;background:#a7bfde"></div>
<div class="a" style="left:725px;top:1075.5px;width:60px;height:64px;background:#a7bfde"></div>
<div class="a" style="left:788px;top:1075.5px;width:65px;height:64px;background:#a7bfde"></div>
<div class="a" style="left:856px;top:1075.5px;width:64px;height:64px;background:#a7bfde"></div>
<div class="a" style="left:924px;top:1075.5px;width:59px;height:64px;background:#a7bfde"></div>
<div class="a" style="left:987px;top:1075.5px;width:59px;height:64px;background:#a7bfde"></div>
<div class="a" style="left:1049px;top:1075.5px;width:60px;height:64px;background:#a7bfde"></div>
<div class="a" style="left:1112px;top:1075.5px;width:73px;height:64px;background:#a7bfde"></div>
<div class="a" style="left:1188px;top:1075.5px;width:71px;height:64px;background:#a7bfde"></div>
<div class="a" style="left:1263px;top:1075.5px;width:54px;height:64px;background:#a7bfde"></div>
<div class="a" style="left:1320px;top:1075.5px;width:72px;height:64px;background:#a7bfde"></div>
<div class="a" style="left:1395px;top:1075.5px;width:59px;height:64px;background:#a7bfde"></div>
<div class="a" style="left:1457px;top:1075.5px;width:57px;height:64px;background:#a7bfde"></div>
<div class="a" style="left:1517px;top:1075.5px;width:65px;height:64px;background:#a7bfde"></div>
<div class="a" style="left:1586px;top:1075.5px;width:55px;height:64px;background:#a7bfde"></div>
<div class="a" style="left:1644px;top:1075.5px;width:71px;height:64px;background:#a7bfde"></div>
<div class="a" style="left:1719px;top:1075.5px;width:71px;height:64px;background:#a7bfde"></div>
<div class="a" style="left:1794px;top:1075.5px;width:71px;height:64px;background:#a7bfde"></div>
<div class="a" style="left:1869px;top:1075.5px;width:71px;height:64px;background:#a7bfde"></div>
<div class="a" style="left:1943px;top:1075.5px;width:75px;height:64px;background:#a7bfde"></div>
<div class="a" style="left:153px;top:1143.2px;width:57px;height:64px;background:#d3dfee"></div>
<div class="a" style="left:213px;top:1143.2px;width:59px;height:64px;background:#d3dfee"></div>
<div class="a" style="left:275px;top:1143.2px;width:60px;height:64px;background:#d3dfee"></div>
<div class="a" style="left:338px;top:1143.2px;width:44px;height:64px;background:#d3dfee"></div>
<div class="a" style="left:385px;top:1143.2px;width:56px;height:64px;background:#d3dfee"></div>
<div class="a" style="left:444px;top:1143.2px;width:45px;height:64px;background:#d3dfee"></div>
<div class="a" style="left:492px;top:1143.2px;width:55px;height:64px;background:#d3dfee"></div>
<div class="a" style="left:549px;top:1143.2px;width:43px;height:64px;background:#d3dfee"></div>
<div class="a" style="left:595px;top:1143.2px;width:63px;height:64px;background:#d3dfee"></div>
<div class="a" style="left:661px;top:1143.2px;width:61px;height:64px;background:#d3dfee"></div>
<div class="a" style="left:725px;top:1143.2px;width:60px;height:64px;background:#d3dfee"></div>
<div class="a" style="left:788px;top:1143.2px;width:65px;height:64px;background:#d3dfee"></div>
<div class="a" style="left:856px;top:1143.2px;width:64px;height:64px;background:#d3dfee"></div>
<div class="a" style="left:924px;top:1143.2px;width:59px;height:64px;background:#d3dfee"></div>
<div class="a" style="left:987px;top:1143.2px;width:59px;height:64px;background:#d3dfee"></div>
<div class="a" style="left:1049px;top:1143.2px;width:60px;height:64px;background:#d3dfee"></div>
<div class="a" style="left:1112px;top:1143.2px;width:73px;height:64px;background:#d3dfee"></div>
<div class="a" style="left:1188px;top:1143.2px;width:71px;height:64px;background:#d3dfee"></div>
<div class="a" style="left:1263px;top:1143.2px;width:54px;height:64px;background:#d3dfee"></div>
<div class="a" style="left:1320px;top:1143.2px;width:72px;height:64px;background:#d3dfee"></div>
<div class="a" style="left:1395px;top:1143.2px;width:59px;height:64px;background:#d3dfee"></div>
<div class="a" style="left:1457px;top:1143.2px;width:57px;height:64px;background:#d3dfee"></div>
<div class="a" style="left:1517px;top:1143.2px;width:65px;height:64px;background:#d3dfee"></div>
<div class="a" style="left:1586px;top:1143.2px;width:55px;height:64px;background:#d3dfee"></div>
<div class="a" style="left:1644px;top:1143.2px;width:71px;height:64px;background:#d3dfee"></div>
<div class="a" style="left:1719px;top:1143.2px;width:71px;height:64px;background:#d3dfee"></div>
<div class="a" style="left:1794px;top:1143.2px;width:71px;height:64px;background:#d3dfee"></div>
<div class="a" style="left:1869px;top:1143.2px;width:71px;height:64px;background:#d3dfee"></div>
<div class="a" style="left:1943px;top:1143.2px;width:75px;height:64px;background:#d3dfee"></div>
<div class="a" style="left:153px;top:1211.0px;width:57px;height:64px;background:#a7bfde"></div>
<div class="a" style="left:213px;top:1211.0px;width:59px;height:64px;background:#a7bfde"></div>
<div class="a" style="left:275px;top:1211.0px;width:60px;height:64px;background:#a7bfde"></div>
<div class="a" style="left:338px;top:1211.0px;width:44px;height:64px;background:#a7bfde"></div>
<div class="a" style="left:385px;top:1211.0px;width:56px;height:64px;background:#a7bfde"></div>
<div class="a" style="left:444px;top:1211.0px;width:45px;height:64px;background:#a7bfde"></div>
<div class="a" style="left:492px;top:1211.0px;width:55px;height:64px;background:#a7bfde"></div>
<div class="a" style="left:549px;top:1211.0px;width:43px;height:64px;background:#a7bfde"></div>
<div class="a" style="left:595px;top:1211.0px;width:63px;height:64px;background:#a7bfde"></div>
<div class="a" style="left:661px;top:1211.0px;width:61px;height:64px;background:#a7bfde"></div>
<div class="a" style="left:725px;top:1211.0px;width:60px;height:64px;background:#a7bfde"></div>
<div class="a" style="left:788px;top:1211.0px;width:65px;height:64px;background:#a7bfde"></div>
<div class="a" style="left:856px;top:1211.0px;width:64px;height:64px;background:#a7bfde"></div>
<div class="a" style="left:924px;top:1211.0px;width:59px;height:64px;background:#a7bfde"></div>
<div class="a" style="left:987px;top:1211.0px;width:59px;height:64px;background:#a7bfde"></div>
<div class="a" style="left:1049px;top:1211.0px;width:60px;height:64px;background:#a7bfde"></div>
<div class="a" style="left:1112px;top:1211.0px;width:73px;height:64px;background:#a7bfde"></div>
<div class="a" style="left:1188px;top:1211.0px;width:71px;height:64px;background:#a7bfde"></div>
<div class="a" style="left:1263px;top:1211.0px;width:54px;height:64px;background:#a7bfde"></div>
<div class="a" style="left:1320px;top:1211.0px;width:72px;height:64px;background:#a7bfde"></div>
<div class="a" style="left:1395px;top:1211.0px;width:59px;height:64px;background:#a7bfde"></div>
<div class="a" style="left:1457px;top:1211.0px;width:57px;height:64px;background:#a7bfde"></div>
<div class="a" style="left:1517px;top:1211.0px;width:65px;height:64px;background:#a7bfde"></div>
<div class="a" style="left:1586px;top:1211.0px;width:55px;height:64px;background:#a7bfde"></div>
<div class="a" style="left:1644px;top:1211.0px;width:71px;height:64px;background:#a7bfde"></div>
<div class="a" style="left:1719px;top:1211.0px;width:71px;height:64px;background:#a7bfde"></div>
<div class="a" style="left:1794px;top:1211.0px;width:71px;height:64px;background:#a7bfde"></div>
<div class="a" style="left:1869px;top:1211.0px;width:71px;height:64px;background:#a7bfde"></div>
<div class="a" style="left:1943px;top:1211.0px;width:75px;height:64px;background:#a7bfde"></div>
<div class="a" style="left:153px;top:1278.8px;width:57px;height:64px;background:#d3dfee"></div>
<div class="a" style="left:213px;top:1278.8px;width:59px;height:64px;background:#d3dfee"></div>
<div class="a" style="left:275px;top:1278.8px;width:60px;height:64px;background:#d3dfee"></div>
<div class="a" style="left:338px;top:1278.8px;width:44px;height:64px;background:#d3dfee"></div>
<div class="a" style="left:385px;top:1278.8px;width:56px;height:64px;background:#d3dfee"></div>
<div class="a" style="left:444px;top:1278.8px;width:45px;height:64px;background:#d3dfee"></div>
<div class="a" style="left:492px;top:1278.8px;width:55px;height:64px;background:#d3dfee"></div>
<div class="a" style="left:549px;top:1278.8px;width:43px;height:64px;background:#d3dfee"></div>
<div class="a" style="left:595px;top:1278.8px;width:63px;height:64px;background:#d3dfee"></div>
<div class="a" style="left:661px;top:1278.8px;width:61px;height:64px;background:#d3dfee"></div>
<div class="a" style="left:725px;top:1278.8px;width:60px;height:64px;background:#d3dfee"></div>
<div class="a" style="left:788px;top:1278.8px;width:65px;height:64px;background:#d3dfee"></div>
<div class="a" style="left:856px;top:1278.8px;width:64px;height:64px;background:#d3dfee"></div>
<div class="a" style="left:924px;top:1278.8px;width:59px;height:64px;background:#d3dfee"></div>
<div class="a" style="left:987px;top:1278.8px;width:59px;height:64px;background:#d3dfee"></div>
<div class="a" style="left:1049px;top:1278.8px;width:60px;height:64px;background:#d3dfee"></div>
<div class="a" style="left:1112px;top:1278.8px;width:73px;height:64px;background:#d3dfee"></div>
<div class="a" style="left:1188px;top:1278.8px;width:71px;height:64px;background:#d3dfee"></div>
<div class="a" style="left:1263px;top:1278.8px;width:54px;height:64px;background:#d3dfee"></div>
<div class="a" style="left:1320px;top:1278.8px;width:72px;height:64px;background:#d3dfee"></div>
<div class="a" style="left:1395px;top:1278.8px;width:59px;height:64px;background:#d3dfee"></div>
<div class="a" style="left:1457px;top:1278.8px;width:57px;height:64px;background:#d3dfee"></div>
<div class="a" style="left:1517px;top:1278.8px;width:65px;height:64px;background:#d3dfee"></div>
<div class="a" style="left:1586px;top:1278.8px;width:55px;height:64px;background:#d3dfee"></div>
<div class="a" style="left:1644px;top:1278.8px;width:71px;height:64px;background:#d3dfee"></div>
<div class="a" style="left:1719px;top:1278.8px;width:71px;height:64px;background:#d3dfee"></div>
<div class="a" style="left:1794px;top:1278.8px;width:71px;height:64px;background:#d3dfee"></div>
<div class="a" style="left:1869px;top:1278.8px;width:71px;height:64px;background:#d3dfee"></div>
<div class="a" style="left:1943px;top:1278.8px;width:75px;height:64px;background:#d3dfee"></div>
<div class="a" style="left:153px;top:1346.5px;width:57px;height:64px;background:#a7bfde"></div>
<div class="a" style="left:213px;top:1346.5px;width:59px;height:64px;background:#a7bfde"></div>
<div class="a" style="left:275px;top:1346.5px;width:60px;height:64px;background:#a7bfde"></div>
<div class="a" style="left:338px;top:1346.5px;width:44px;height:64px;background:#a7bfde"></div>
<div class="a" style="left:385px;top:1346.5px;width:56px;height:64px;background:#a7bfde"></div>
<div class="a" style="left:444px;top:1346.5px;width:45px;height:64px;background:#a7bfde"></div>
<div class="a" style="left:492px;top:1346.5px;width:55px;height:64px;background:#a7bfde"></div>
<div class="a" style="left:549px;top:1346.5px;width:43px;height:64px;background:#a7bfde"></div>
<div class="a" style="left:595px;top:1346.5px;width:63px;height:64px;background:#a7bfde"></div>
<div class="a" style="left:661px;top:1346.5px;width:61px;height:64px;background:#a7bfde"></div>
<div class="a" style="left:725px;top:1346.5px;width:60px;height:64px;background:#a7bfde"></div>
<div class="a" style="left:788px;top:1346.5px;width:65px;height:64px;background:#a7bfde"></div>
<div class="a" style="left:856px;top:1346.5px;width:64px;height:64px;background:#a7bfde"></div>
<div class="a" style="left:924px;top:1346.5px;width:59px;height:64px;background:#a7bfde"></div>
<div class="a" style="left:987px;top:1346.5px;width:59px;height:64px;background:#a7bfde"></div>
<div class="a" style="left:1049px;top:1346.5px;width:60px;height:64px;background:#a7bfde"></div>
<div class="a" style="left:1112px;top:1346.5px;width:73px;height:64px;background:#a7bfde"></div>
<div class="a" style="left:1188px;top:1346.5px;width:71px;height:64px;background:#a7bfde"></div>
<div class="a" style="left:1263px;top:1346.5px;width:54px;height:64px;background:#a7bfde"></div>
<div class="a" style="left:1320px;top:1346.5px;width:72px;height:64px;background:#a7bfde"></div>
<div class="a" style="left:1395px;top:1346.5px;width:59px;height:64px;background:#a7bfde"></div>
<div class="a" style="left:1457px;top:1346.5px;width:57px;height:64px;background:#a7bfde"></div>
<div class="a" style="left:1517px;top:1346.5px;width:65px;height:64px;background:#a7bfde"></div>
<div class="a" style="left:1586px;top:1346.5px;width:55px;height:64px;background:#a7bfde"></div>
<div class="a" style="left:1644px;top:1346.5px;width:71px;height:64px;background:#a7bfde"></div>
<div class="a" style="left:1719px;top:1346.5px;width:71px;height:64px;background:#a7bfde"></div>
<div class="a" style="left:1794px;top:1346.5px;width:71px;height:64px;background:#a7bfde"></div>
<div class="a" style="left:1869px;top:1346.5px;width:71px;height:64px;background:#a7bfde"></div>
<div class="a" style="left:1943px;top:1346.5px;width:75px;height:64px;background:#a7bfde"></div>
<div class="a" style="left:153px;top:1421.0px;width:57px;height:52px;background:#d3dfee"></div>
<div class="a" style="left:213px;top:1421.0px;width:59px;height:52px;background:#d3dfee"></div>
<div class="a" style="left:275px;top:1421.0px;width:60px;height:52px;background:#d3dfee"></div>
<div class="a" style="left:338px;top:1421.0px;width:44px;height:52px;background:#d3dfee"></div>
<div class="a" style="left:385px;top:1421.0px;width:56px;height:52px;background:#d3dfee"></div>
<div class="a" style="left:444px;top:1421.0px;width:45px;height:52px;background:#d3dfee"></div>
<div class="a" style="left:492px;top:1421.0px;width:55px;height:52px;background:#d3dfee"></div>
<div class="a" style="left:549px;top:1421.0px;width:43px;height:52px;background:#d3dfee"></div>
<div class="a" style="left:595px;top:1421.0px;width:63px;height:52px;background:#d3dfee"></div>
<div class="a" style="left:661px;top:1421.0px;width:61px;height:52px;background:#d3dfee"></div>
<div class="a" style="left:725px;top:1421.0px;width:60px;height:52px;background:#d3dfee"></div>
<div class="a" style="left:788px;top:1421.0px;width:65px;height:52px;background:#d3dfee"></div>
<div class="a" style="left:856px;top:1421.0px;width:64px;height:52px;background:#d3dfee"></div>
<div class="a" style="left:924px;top:1421.0px;width:59px;height:52px;background:#d3dfee"></div>
<div class="a" style="left:987px;top:1421.0px;width:59px;height:52px;background:#d3dfee"></div>
<div class="a" style="left:1049px;top:1421.0px;width:60px;height:52px;background:#d3dfee"></div>
<div class="a" style="left:1112px;top:1421.0px;width:73px;height:52px;background:#d3dfee"></div>
<div class="a" style="left:1188px;top:1421.0px;width:71px;height:52px;background:#d3dfee"></div>
<div class="a" style="left:1263px;top:1421.0px;width:54px;height:52px;background:#d3dfee"></div>
<div class="a" style="left:1320px;top:1421.0px;width:72px;height:52px;background:#d3dfee"></div>
<div class="a" style="left:1395px;top:1421.0px;width:59px;height:52px;background:#d3dfee"></div>
<div class="a" style="left:1457px;top:1421.0px;width:57px;height:52px;background:#d3dfee"></div>
<div class="a" style="left:1517px;top:1421.0px;width:65px;height:52px;background:#d3dfee"></div>
<div class="a" style="left:1586px;top:1421.0px;width:55px;height:52px;background:#d3dfee"></div>
<div class="a" style="left:1644px;top:1421.0px;width:71px;height:52px;background:#d3dfee"></div>
<div class="a" style="left:1719px;top:1421.0px;width:71px;height:52px;background:#d3dfee"></div>
<div class="a" style="left:1794px;top:1421.0px;width:71px;height:52px;background:#d3dfee"></div>
<div class="a" style="left:1869px;top:1421.0px;width:71px;height:52px;background:#d3dfee"></div>
<div class="a" style="left:1943px;top:1421.0px;width:75px;height:52px;background:#d3dfee"></div>
<div class="a" style="left:153px;top:1482.0px;width:57px;height:64px;background:#a7bfde"></div>
<div class="a" style="left:213px;top:1482.0px;width:59px;height:64px;background:#a7bfde"></div>
<div class="a" style="left:275px;top:1482.0px;width:60px;height:64px;background:#a7bfde"></div>
<div class="a" style="left:338px;top:1482.0px;width:44px;height:64px;background:#a7bfde"></div>
<div class="a" style="left:385px;top:1482.0px;width:56px;height:64px;background:#a7bfde"></div>
<div class="a" style="left:444px;top:1482.0px;width:45px;height:64px;background:#a7bfde"></div>
<div class="a" style="left:492px;top:1482.0px;width:55px;height:64px;background:#a7bfde"></div>
<div class="a" style="left:549px;top:1482.0px;width:43px;height:64px;background:#a7bfde"></div>
<div class="a" style="left:595px;top:1482.0px;width:63px;height:64px;background:#a7bfde"></div>
<div class="a" style="left:661px;top:1482.0px;width:61px;height:64px;background:#a7bfde"></div>
<div class="a" style="left:725px;top:1482.0px;width:60px;height:64px;background:#a7bfde"></div>
<div class="a" style="left:788px;top:1482.0px;width:65px;height:64px;background:#a7bfde"></div>
<div class="a" style="left:856px;top:1482.0px;width:64px;height:64px;background:#a7bfde"></div>
<div class="a" style="left:924px;top:1482.0px;width:59px;height:64px;background:#a7bfde"></div>
<div class="a" style="left:987px;top:1482.0px;width:59px;height:64px;background:#a7bfde"></div>
<div class="a" style="left:1049px;top:1482.0px;width:60px;height:64px;background:#a7bfde"></div>
<div class="a" style="left:1112px;top:1482.0px;width:73px;height:64px;background:#a7bfde"></div>
<div class="a" style="left:1188px;top:1482.0px;width:71px;height:64px;background:#a7bfde"></div>
<div class="a" style="left:1263px;top:1482.0px;width:54px;height:64px;background:#a7bfde"></div>
<div class="a" style="left:1320px;top:1482.0px;width:72px;height:64px;background:#a7bfde"></div>
<div class="a" style="left:1395px;top:1482.0px;width:59px;height:64px;background:#a7bfde"></div>
<div class="a" style="left:1457px;top:1482.0px;width:57px;height:64px;background:#a7bfde"></div>
<div class="a" style="left:1517px;top:1482.0px;width:65px;height:64px;background:#a7bfde"></div>
<div class="a" style="left:1586px;top:1482.0px;width:55px;height:64px;background:#a7bfde"></div>
<div class="a" style="left:1644px;top:1482.0px;width:71px;height:64px;background:#a7bfde"></div>
<div class="a" style="left:1719px;top:1482.0px;width:71px;height:64px;background:#a7bfde"></div>
<div class="a" style="left:1794px;top:1482.0px;width:71px;height:64px;background:#a7bfde"></div>
<div class="a" style="left:1869px;top:1482.0px;width:71px;height:64px;background:#a7bfde"></div>
<div class="a" style="left:1943px;top:1482.0px;width:75px;height:64px;background:#a7bfde"></div>
<svg class="a" style="left:0;top:0;will-change:transform" width="2048" height="1549" viewBox="0 0 2048 1549">
<path d="M276 1154 L276 915 Q276 887 318 886 L545 966 Q576 978 576 1010 L576 1303 L492 1271 L492 1030 Q492 1020 480 1016 L441 1003 L441 1236 L381 1208 L381 975 L335 953 L335 1184 Z" fill="#000" fill-opacity="0.145"/>
<path d="M592 1306 L592 990 Q592 972 612 966 L852 887 Q890 884 890 925 L890 1148 L831 1176 L831 960 L784 976 L784 1208 L722 1236 L722 997 L690 1008 Q660 1018 660 1040 L660 1275 Z" fill="#e05050" fill-opacity="0.20"/>
<g font-family="Liberation Sans" fill="#5a5a5a" opacity="0.29">
<text x="955" y="1057" font-size="146" textLength="856" lengthAdjust="spacingAndGlyphs">ENGINEERING</text>
<text x="1046" y="1193" font-size="163" textLength="661" lengthAdjust="spacingAndGlyphs">SERVICES</text>
</g>
<text x="908" y="1305" font-family="Liberation Sans" font-size="90" fill="#d04848" fill-opacity="0.28" textLength="935" lengthAdjust="spacingAndGlyphs">Your Enquiry, Our Priority</text>
</svg>
<div class="a" style="left:24.5px;top:1420.5px;width:1998.5px;height:53px;background:rgba(255,255,0,0.33)"></div>
<div class="t h wf" style="left:146px;top:736px;width:1436px;line-height:30px">&nbsp;</div>
<div class="t h wf" style="left:683px;top:736px;width:368px;text-align:left">Mounting dimensions (mm)</div>
<div class="t h wf" style="left:1639px;top:736px;width:330px;text-align:left">Frame Dimensions (mm)</div>
<div class="t h" style="left:700px;top:798px;width:98px;">IMB14</div>
<div class="t h" style="left:1263px;top:798px;width:319px;">IMB5</div>
<div class="t wf" style="left:38px;top:797px;width:108px;font-size:24px;line-height:29px;height:60px">Frame<br>Size</div>
<div class="t h" style="left:153px;top:871px;width:57px;">A</div>
<div class="t h" style="left:213px;top:871px;width:59px;">B</div>
<div class="t h" style="left:275px;top:871px;width:60px;">C</div>
<div class="t h" style="left:338px;top:871px;width:44px;">D</div>
<div class="t h" style="left:385px;top:871px;width:56px;">E</div>
<div class="t h" style="left:444px;top:871px;width:45px;">F</div>
<div class="t h" style="left:492px;top:871px;width:55px;">G</div>
<div class="t h" style="left:549px;top:871px;width:43px;">K</div>
<div class="t h" style="left:595px;top:871px;width:63px;">M</div>
<div class="t h" style="left:661px;top:871px;width:61px;">N</div>
<div class="t h" style="left:725px;top:871px;width:60px;">P</div>
<div class="t h" style="left:788px;top:871px;width:65px;">S</div>
<div class="t h" style="left:856px;top:871px;width:64px;">T</div>
<div class="t h" style="left:1263px;top:871px;width:54px;">M</div>
<div class="t h" style="left:1320px;top:871px;width:72px;">N</div>
<div class="t h" style="left:1395px;top:871px;width:59px;">P</div>
<div class="t h" style="left:1457px;top:871px;width:57px;">S</div>
<div class="t h" style="left:1517px;top:871px;width:65px;">T</div>
<div class="t h" style="left:1586px;top:871px;width:55px;">AB</div>
<div class="t h" style="left:1644px;top:871px;width:71px;">BB</div>
<div class="t h" style="left:1719px;top:871px;width:71px;">AC</div>
<div class="t h" style="left:1794px;top:871px;width:71px;">AD</div>
<div class="t h" style="left:1869px;top:871px;width:71px;">HD</div>
<div class="t h" style="left:1943px;top:871px;width:75px;">L</div>
<div class="t h wf" style="left:38px;top:959.0px;width:108px;">80</div>
<div class="t" style="left:153px;top:959.0px;width:57px;">125</div>
<div class="t" style="left:213px;top:959.0px;width:59px;">100</div>
<div class="t" style="left:275px;top:959.0px;width:60px;">50</div>
<div class="t" style="left:338px;top:959.0px;width:44px;">19</div>
<div class="t" style="left:385px;top:959.0px;width:56px;">40</div>
<div class="t" style="left:444px;top:959.0px;width:45px;">6</div>
<div class="t s" style="left:492px;top:959.0px;width:55px;">15.5</div>
<div class="t" style="left:549px;top:959.0px;width:43px;">10</div>
<div class="t" style="left:595px;top:959.0px;width:63px;">100</div>
<div class="t" style="left:661px;top:959.0px;width:61px;">80</div>
<div class="t" style="left:725px;top:959.0px;width:60px;">120</div>
<div class="t" style="left:788px;top:959.0px;width:65px;">M6</div>
<div class="t" style="left:856px;top:959.0px;width:64px;">3</div>
<div class="t" style="left:1263px;top:959.0px;width:54px;">165</div>
<div class="t" style="left:1320px;top:959.0px;width:72px;">130</div>
<div class="t" style="left:1395px;top:959.0px;width:59px;">200</div>
<div class="t" style="left:1457px;top:959.0px;width:57px;">12</div>
<div class="t" style="left:1517px;top:959.0px;width:65px;">3.5</div>
<div class="t" style="left:1586px;top:959.0px;width:55px;">160</div>
<div class="t" style="left:1644px;top:959.0px;width:71px;">124</div>
<div class="t" style="left:1719px;top:959.0px;width:71px;">151</div>
<div class="t" style="left:1794px;top:959.0px;width:71px;">135</div>
<div class="t" style="left:1869px;top:959.0px;width:71px;">215</div>
<div class="t" style="left:1943px;top:959.0px;width:75px;">301*</div>
<div class="t h wf" style="left:38px;top:1026.8px;width:108px;">90S</div>
<div class="t" style="left:153px;top:1026.8px;width:57px;">140</div>
<div class="t" style="left:213px;top:1026.8px;width:59px;">100</div>
<div class="t" style="left:275px;top:1026.8px;width:60px;">56</div>
<div class="t" style="left:338px;top:1026.8px;width:44px;">24</div>
<div class="t" style="left:385px;top:1026.8px;width:56px;">50</div>
<div class="t" style="left:444px;top:1026.8px;width:45px;">8</div>
<div class="t" style="left:492px;top:1026.8px;width:55px;">20</div>
<div class="t" style="left:549px;top:1026.8px;width:43px;">10</div>
<div class="t" style="left:595px;top:1026.8px;width:63px;">115</div>
<div class="t" style="left:661px;top:1026.8px;width:61px;">95</div>
<div class="t" style="left:725px;top:1026.8px;width:60px;">140</div>
<div class="t" style="left:788px;top:1026.8px;width:65px;">M8</div>
<div class="t" style="left:856px;top:1026.8px;width:64px;">3</div>
<div class="t" style="left:1263px;top:1026.8px;width:54px;">165</div>
<div class="t" style="left:1320px;top:1026.8px;width:72px;">130</div>
<div class="t" style="left:1395px;top:1026.8px;width:59px;">200</div>
<div class="t" style="left:1457px;top:1026.8px;width:57px;">12</div>
<div class="t" style="left:1517px;top:1026.8px;width:65px;">3.5</div>
<div class="t" style="left:1586px;top:1026.8px;width:55px;">177</div>
<div class="t" style="left:1644px;top:1026.8px;width:71px;">125</div>
<div class="t" style="left:1719px;top:1026.8px;width:71px;">175</div>
<div class="t" style="left:1794px;top:1026.8px;width:71px;">145</div>
<div class="t" style="left:1869px;top:1026.8px;width:71px;">235</div>
<div class="t" style="left:1943px;top:1026.8px;width:75px;">308</div>
<div class="t h wf" style="left:38px;top:1094.5px;width:108px;">90L</div>
<div class="t" style="left:153px;top:1094.5px;width:57px;">140</div>
<div class="t" style="left:213px;top:1094.5px;width:59px;">125</div>
<div class="t" style="left:275px;top:1094.5px;width:60px;">56</div>
<div class="t" style="left:338px;top:1094.5px;width:44px;">24</div>
<div class="t" style="left:385px;top:1094.5px;width:56px;">50</div>
<div class="t" style="left:444px;top:1094.5px;width:45px;">8</div>
<div class="t" style="left:492px;top:1094.5px;width:55px;">20</div>
<div class="t" style="left:549px;top:1094.5px;width:43px;">10</div>
<div class="t" style="left:595px;top:1094.5px;width:63px;">115</div>
<div class="t" style="left:661px;top:1094.5px;width:61px;">95</div>
<div class="t" style="left:725px;top:1094.5px;width:60px;">140</div>
<div class="t" style="left:788px;top:1094.5px;width:65px;">M8</div>
<div class="t" style="left:856px;top:1094.5px;width:64px;">3</div>
<div class="t" style="left:1263px;top:1094.5px;width:54px;">165</div>
<div class="t" style="left:1320px;top:1094.5px;width:72px;">130</div>
<div class="t" style="left:1395px;top:1094.5px;width:59px;">200</div>
<div class="t" style="left:1457px;top:1094.5px;width:57px;">12</div>
<div class="t" style="left:1517px;top:1094.5px;width:65px;">3.5</div>
<div class="t" style="left:1586px;top:1094.5px;width:55px;">177</div>
<div class="t" style="left:1644px;top:1094.5px;width:71px;">150</div>
<div class="t" style="left:1719px;top:1094.5px;width:71px;">175</div>
<div class="t" style="left:1794px;top:1094.5px;width:71px;">145</div>
<div class="t" style="left:1869px;top:1094.5px;width:71px;">235</div>
<div class="t" style="left:1943px;top:1094.5px;width:75px;">360*</div>
<div class="t h wf" style="left:38px;top:1162.2px;width:108px;">100L</div>
<div class="t" style="left:153px;top:1162.2px;width:57px;">160</div>
<div class="t" style="left:213px;top:1162.2px;width:59px;">140</div>
<div class="t" style="left:275px;top:1162.2px;width:60px;">63</div>
<div class="t" style="left:338px;top:1162.2px;width:44px;">28</div>
<div class="t" style="left:385px;top:1162.2px;width:56px;">60</div>
<div class="t" style="left:444px;top:1162.2px;width:45px;">8</div>
<div class="t" style="left:492px;top:1162.2px;width:55px;">24</div>
<div class="t" style="left:549px;top:1162.2px;width:43px;">12</div>
<div class="t" style="left:595px;top:1162.2px;width:63px;">130</div>
<div class="t" style="left:661px;top:1162.2px;width:61px;">110</div>
<div class="t" style="left:725px;top:1162.2px;width:60px;">160</div>
<div class="t" style="left:788px;top:1162.2px;width:65px;">M8</div>
<div class="t" style="left:856px;top:1162.2px;width:64px;">3.5</div>
<div class="t" style="left:1263px;top:1162.2px;width:54px;">215</div>
<div class="t" style="left:1320px;top:1162.2px;width:72px;">180</div>
<div class="t" style="left:1395px;top:1162.2px;width:59px;">250</div>
<div class="t s" style="left:1457px;top:1162.2px;width:57px;">14.5</div>
<div class="t" style="left:1517px;top:1162.2px;width:65px;">4</div>
<div class="t" style="left:1586px;top:1162.2px;width:55px;">196</div>
<div class="t" style="left:1644px;top:1162.2px;width:71px;">170</div>
<div class="t" style="left:1719px;top:1162.2px;width:71px;">196</div>
<div class="t" style="left:1794px;top:1162.2px;width:71px;">155</div>
<div class="t" style="left:1869px;top:1162.2px;width:71px;">255</div>
<div class="t" style="left:1943px;top:1162.2px;width:75px;">372</div>
<div class="t h wf" style="left:38px;top:1230.0px;width:108px;">112M</div>
<div class="t" style="left:153px;top:1230.0px;width:57px;">190</div>
<div class="t" style="left:213px;top:1230.0px;width:59px;">140</div>
<div class="t" style="left:275px;top:1230.0px;width:60px;">70</div>
<div class="t" style="left:338px;top:1230.0px;width:44px;">28</div>
<div class="t" style="left:385px;top:1230.0px;width:56px;">60</div>
<div class="t" style="left:444px;top:1230.0px;width:45px;">8</div>
<div class="t" style="left:492px;top:1230.0px;width:55px;">24</div>
<div class="t" style="left:549px;top:1230.0px;width:43px;">12</div>
<div class="t" style="left:595px;top:1230.0px;width:63px;">130</div>
<div class="t" style="left:661px;top:1230.0px;width:61px;">110</div>
<div class="t" style="left:725px;top:1230.0px;width:60px;">160</div>
<div class="t" style="left:788px;top:1230.0px;width:65px;">M8</div>
<div class="t" style="left:856px;top:1230.0px;width:64px;">3.5</div>
<div class="t" style="left:1263px;top:1230.0px;width:54px;">215</div>
<div class="t" style="left:1320px;top:1230.0px;width:72px;">180</div>
<div class="t" style="left:1395px;top:1230.0px;width:59px;">250</div>
<div class="t s" style="left:1457px;top:1230.0px;width:57px;">14.5</div>
<div class="t" style="left:1517px;top:1230.0px;width:65px;">4</div>
<div class="t" style="left:1586px;top:1230.0px;width:55px;">218</div>
<div class="t" style="left:1644px;top:1230.0px;width:71px;">183</div>
<div class="t" style="left:1719px;top:1230.0px;width:71px;">219</div>
<div class="t" style="left:1794px;top:1230.0px;width:71px;">173</div>
<div class="t" style="left:1869px;top:1230.0px;width:71px;">286</div>
<div class="t" style="left:1943px;top:1230.0px;width:75px;">394</div>
<div class="t h wf" style="left:38px;top:1297.8px;width:108px;">132S</div>
<div class="t" style="left:153px;top:1297.8px;width:57px;">216</div>
<div class="t" style="left:213px;top:1297.8px;width:59px;">140</div>
<div class="t" style="left:275px;top:1297.8px;width:60px;">89</div>
<div class="t" style="left:338px;top:1297.8px;width:44px;">38</div>
<div class="t" style="left:385px;top:1297.8px;width:56px;">80</div>
<div class="t" style="left:444px;top:1297.8px;width:45px;">10</div>
<div class="t" style="left:492px;top:1297.8px;width:55px;">33</div>
<div class="t" style="left:549px;top:1297.8px;width:43px;">12</div>
<div class="t" style="left:595px;top:1297.8px;width:63px;">165</div>
<div class="t" style="left:661px;top:1297.8px;width:61px;">130</div>
<div class="t" style="left:725px;top:1297.8px;width:60px;">200</div>
<div class="t" style="left:788px;top:1297.8px;width:65px;">M10</div>
<div class="t" style="left:856px;top:1297.8px;width:64px;">3.5</div>
<div class="t" style="left:1263px;top:1297.8px;width:54px;">265</div>
<div class="t" style="left:1320px;top:1297.8px;width:72px;">230</div>
<div class="t" style="left:1395px;top:1297.8px;width:59px;">300</div>
<div class="t s" style="left:1457px;top:1297.8px;width:57px;">14.5</div>
<div class="t" style="left:1517px;top:1297.8px;width:65px;">4</div>
<div class="t" style="left:1586px;top:1297.8px;width:55px;">252</div>
<div class="t" style="left:1644px;top:1297.8px;width:71px;">175</div>
<div class="t" style="left:1719px;top:1297.8px;width:71px;">258</div>
<div class="t" style="left:1794px;top:1297.8px;width:71px;">192</div>
<div class="t" style="left:1869px;top:1297.8px;width:71px;">324</div>
<div class="t" style="left:1943px;top:1297.8px;width:75px;">462</div>
<div class="t h wf" style="left:38px;top:1365.5px;width:108px;">132M</div>
<div class="t" style="left:153px;top:1365.5px;width:57px;">216</div>
<div class="t" style="left:213px;top:1365.5px;width:59px;">178</div>
<div class="t" style="left:275px;top:1365.5px;width:60px;">89</div>
<div class="t" style="left:338px;top:1365.5px;width:44px;">38</div>
<div class="t" style="left:385px;top:1365.5px;width:56px;">80</div>
<div class="t" style="left:444px;top:1365.5px;width:45px;">10</div>
<div class="t" style="left:492px;top:1365.5px;width:55px;">33</div>
<div class="t" style="left:549px;top:1365.5px;width:43px;">12</div>
<div class="t" style="left:595px;top:1365.5px;width:63px;">165</div>
<div class="t" style="left:661px;top:1365.5px;width:61px;">130</div>
<div class="t" style="left:725px;top:1365.5px;width:60px;">200</div>
<div class="t" style="left:788px;top:1365.5px;width:65px;">M10</div>
<div class="t" style="left:856px;top:1365.5px;width:64px;">3.5</div>
<div class="t" style="left:1263px;top:1365.5px;width:54px;">265</div>
<div class="t" style="left:1320px;top:1365.5px;width:72px;">230</div>
<div class="t" style="left:1395px;top:1365.5px;width:59px;">300</div>
<div class="t s" style="left:1457px;top:1365.5px;width:57px;">14.5</div>
<div class="t" style="left:1517px;top:1365.5px;width:65px;">4</div>
<div class="t" style="left:1586px;top:1365.5px;width:55px;">252</div>
<div class="t" style="left:1644px;top:1365.5px;width:71px;">218</div>
<div class="t" style="left:1719px;top:1365.5px;width:71px;">258</div>
<div class="t" style="left:1794px;top:1365.5px;width:71px;">192</div>
<div class="t" style="left:1869px;top:1365.5px;width:71px;">324</div>
<div class="t" style="left:1943px;top:1365.5px;width:75px;">529*</div>
<div class="t h wf" style="left:38px;top:1433.2px;width:108px;color:#fbfbb8;">160M</div>
<div class="t" style="left:153px;top:1433.2px;width:57px;color:#3c3c14;">254</div>
<div class="t" style="left:213px;top:1433.2px;width:59px;color:#3c3c14;">210</div>
<div class="t" style="left:275px;top:1433.2px;width:60px;color:#3c3c14;">108</div>
<div class="t" style="left:338px;top:1433.2px;width:44px;color:#3c3c14;">42</div>
<div class="t" style="left:385px;top:1433.2px;width:56px;color:#3c3c14;">110</div>
<div class="t" style="left:444px;top:1433.2px;width:45px;color:#3c3c14;">12</div>
<div class="t" style="left:492px;top:1433.2px;width:55px;color:#3c3c14;">37</div>
<div class="t" style="left:549px;top:1433.2px;width:43px;color:#3c3c14;">15</div>
<div class="t" style="left:1263px;top:1433.2px;width:54px;color:#3c3c14;">300</div>
<div class="t" style="left:1320px;top:1433.2px;width:72px;color:#3c3c14;">250</div>
<div class="t" style="left:1395px;top:1433.2px;width:59px;color:#3c3c14;">350</div>
<div class="t s" style="left:1457px;top:1433.2px;width:57px;color:#3c3c14;">18.5</div>
<div class="t" style="left:1517px;top:1433.2px;width:65px;color:#3c3c14;">5</div>
<div class="t" style="left:1586px;top:1433.2px;width:55px;color:#3c3c14;">302</div>
<div class="t" style="left:1644px;top:1433.2px;width:71px;color:#3c3c14;">304</div>
<div class="t" style="left:1719px;top:1433.2px;width:71px;color:#3c3c14;">314</div>
<div class="t" style="left:1794px;top:1433.2px;width:71px;color:#3c3c14;">246</div>
<div class="t" style="left:1869px;top:1433.2px;width:71px;color:#3c3c14;">406</div>
<div class="t" style="left:1943px;top:1433.2px;width:75px;color:#3c3c14;">617</div>
<div class="t h wf" style="left:38px;top:1501.0px;width:108px;">160L</div>
<div class="t" style="left:153px;top:1501.0px;width:57px;">254</div>
<div class="t" style="left:213px;top:1501.0px;width:59px;">254</div>
<div class="t" style="left:275px;top:1501.0px;width:60px;">108</div>
<div class="t" style="left:338px;top:1501.0px;width:44px;">42</div>
<div class="t" style="left:385px;top:1501.0px;width:56px;">110</div>
<div class="t" style="left:444px;top:1501.0px;width:45px;">12</div>
<div class="t" style="left:492px;top:1501.0px;width:55px;">37</div>
<div class="t" style="left:549px;top:1501.0px;width:43px;">15</div>
<div class="t" style="left:1263px;top:1501.0px;width:54px;">300</div>
<div class="t" style="left:1320px;top:1501.0px;width:72px;">250</div>
<div class="t" style="left:1395px;top:1501.0px;width:59px;">350</div>
<div class="t s" style="left:1457px;top:1501.0px;width:57px;">18.5</div>
<div class="t" style="left:1517px;top:1501.0px;width:65px;">5</div>
<div class="t" style="left:1586px;top:1501.0px;width:55px;">302</div>
<div class="t" style="left:1644px;top:1501.0px;width:71px;">304</div>
<div class="t" style="left:1719px;top:1501.0px;width:71px;">314</div>
<div class="t" style="left:1794px;top:1501.0px;width:71px;">246</div>
<div class="t" style="left:1869px;top:1501.0px;width:71px;">406</div>
<div class="t" style="left:1943px;top:1501.0px;width:75px;">661</div>
<div class="a" style="left:21px;top:1417px;width:2002px;height:53px;border:3.5px solid #000;"></div>
</body></html>
